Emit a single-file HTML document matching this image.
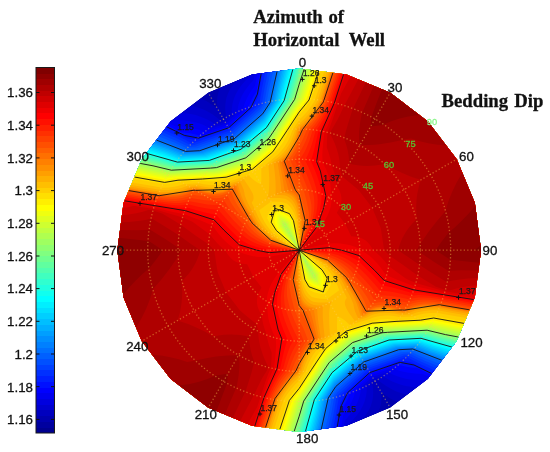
<!DOCTYPE html><html><head><meta charset="utf-8"><title>Polar contour</title>
<style>html,body{margin:0;padding:0;background:#fff}svg{display:block}.s{font-family:"Liberation Sans",Arial,sans-serif}.t{font-family:"Liberation Serif","Times New Roman",serif;font-weight:bold;font-size:18.7px;fill:#111;stroke:#111;stroke-width:0.3px}</style></head><body>
<svg width="550" height="452" viewBox="0 0 550 452">
<rect width="550" height="452" fill="#fff"/>
<g shape-rendering="crispEdges">
<rect x="36.0" y="427.29" width="18.5" height="6.01" fill="#00008f"/>
<rect x="36.0" y="421.58" width="18.5" height="6.01" fill="#00009f"/>
<rect x="36.0" y="415.87" width="18.5" height="6.01" fill="#0000af"/>
<rect x="36.0" y="410.16" width="18.5" height="6.01" fill="#0000bf"/>
<rect x="36.0" y="404.45" width="18.5" height="6.01" fill="#0000cf"/>
<rect x="36.0" y="398.73" width="18.5" height="6.01" fill="#0000df"/>
<rect x="36.0" y="393.02" width="18.5" height="6.01" fill="#0000ef"/>
<rect x="36.0" y="387.31" width="18.5" height="6.01" fill="#0000ff"/>
<rect x="36.0" y="381.60" width="18.5" height="6.01" fill="#0010ff"/>
<rect x="36.0" y="375.89" width="18.5" height="6.01" fill="#0020ff"/>
<rect x="36.0" y="370.18" width="18.5" height="6.01" fill="#0030ff"/>
<rect x="36.0" y="364.47" width="18.5" height="6.01" fill="#0040ff"/>
<rect x="36.0" y="358.76" width="18.5" height="6.01" fill="#0050ff"/>
<rect x="36.0" y="353.05" width="18.5" height="6.01" fill="#0060ff"/>
<rect x="36.0" y="347.34" width="18.5" height="6.01" fill="#0070ff"/>
<rect x="36.0" y="341.62" width="18.5" height="6.01" fill="#0080ff"/>
<rect x="36.0" y="335.91" width="18.5" height="6.01" fill="#008fff"/>
<rect x="36.0" y="330.20" width="18.5" height="6.01" fill="#009fff"/>
<rect x="36.0" y="324.49" width="18.5" height="6.01" fill="#00afff"/>
<rect x="36.0" y="318.78" width="18.5" height="6.01" fill="#00bfff"/>
<rect x="36.0" y="313.07" width="18.5" height="6.01" fill="#00cfff"/>
<rect x="36.0" y="307.36" width="18.5" height="6.01" fill="#00dfff"/>
<rect x="36.0" y="301.65" width="18.5" height="6.01" fill="#00efff"/>
<rect x="36.0" y="295.94" width="18.5" height="6.01" fill="#00ffff"/>
<rect x="36.0" y="290.23" width="18.5" height="6.01" fill="#10ffef"/>
<rect x="36.0" y="284.52" width="18.5" height="6.01" fill="#20ffdf"/>
<rect x="36.0" y="278.80" width="18.5" height="6.01" fill="#30ffcf"/>
<rect x="36.0" y="273.09" width="18.5" height="6.01" fill="#40ffbf"/>
<rect x="36.0" y="267.38" width="18.5" height="6.01" fill="#50ffaf"/>
<rect x="36.0" y="261.67" width="18.5" height="6.01" fill="#60ff9f"/>
<rect x="36.0" y="255.96" width="18.5" height="6.01" fill="#70ff8f"/>
<rect x="36.0" y="250.25" width="18.5" height="6.01" fill="#80ff80"/>
<rect x="36.0" y="244.54" width="18.5" height="6.01" fill="#8fff70"/>
<rect x="36.0" y="238.83" width="18.5" height="6.01" fill="#9fff60"/>
<rect x="36.0" y="233.12" width="18.5" height="6.01" fill="#afff50"/>
<rect x="36.0" y="227.41" width="18.5" height="6.01" fill="#bfff40"/>
<rect x="36.0" y="221.70" width="18.5" height="6.01" fill="#cfff30"/>
<rect x="36.0" y="215.98" width="18.5" height="6.01" fill="#dfff20"/>
<rect x="36.0" y="210.27" width="18.5" height="6.01" fill="#efff10"/>
<rect x="36.0" y="204.56" width="18.5" height="6.01" fill="#ffff00"/>
<rect x="36.0" y="198.85" width="18.5" height="6.01" fill="#ffef00"/>
<rect x="36.0" y="193.14" width="18.5" height="6.01" fill="#ffdf00"/>
<rect x="36.0" y="187.43" width="18.5" height="6.01" fill="#ffcf00"/>
<rect x="36.0" y="181.72" width="18.5" height="6.01" fill="#ffbf00"/>
<rect x="36.0" y="176.01" width="18.5" height="6.01" fill="#ffaf00"/>
<rect x="36.0" y="170.30" width="18.5" height="6.01" fill="#ff9f00"/>
<rect x="36.0" y="164.59" width="18.5" height="6.01" fill="#ff8f00"/>
<rect x="36.0" y="158.88" width="18.5" height="6.01" fill="#ff8000"/>
<rect x="36.0" y="153.16" width="18.5" height="6.01" fill="#ff7000"/>
<rect x="36.0" y="147.45" width="18.5" height="6.01" fill="#ff6000"/>
<rect x="36.0" y="141.74" width="18.5" height="6.01" fill="#ff5000"/>
<rect x="36.0" y="136.03" width="18.5" height="6.01" fill="#ff4000"/>
<rect x="36.0" y="130.32" width="18.5" height="6.01" fill="#ff3000"/>
<rect x="36.0" y="124.61" width="18.5" height="6.01" fill="#ff2000"/>
<rect x="36.0" y="118.90" width="18.5" height="6.01" fill="#ff1000"/>
<rect x="36.0" y="113.19" width="18.5" height="6.01" fill="#ff0000"/>
<rect x="36.0" y="107.48" width="18.5" height="6.01" fill="#ef0000"/>
<rect x="36.0" y="101.77" width="18.5" height="6.01" fill="#df0000"/>
<rect x="36.0" y="96.05" width="18.5" height="6.01" fill="#cf0000"/>
<rect x="36.0" y="90.34" width="18.5" height="6.01" fill="#bf0000"/>
<rect x="36.0" y="84.63" width="18.5" height="6.01" fill="#af0000"/>
<rect x="36.0" y="78.92" width="18.5" height="6.01" fill="#9f0000"/>
<rect x="36.0" y="73.21" width="18.5" height="6.01" fill="#8f0000"/>
<rect x="36.0" y="67.50" width="18.5" height="6.01" fill="#800000"/>
</g>
<rect x="36.0" y="67.5" width="18.5" height="365.5" fill="none" stroke="#1a1a1a" stroke-width="1"/>
<path d="M36.0 92.5h3.5M54.5 92.5h-3.5" stroke="#111" stroke-width="1"/>
<text class="s" x="33.0" y="97.3" font-size="13.3" text-anchor="end" fill="#111" stroke="#111" stroke-width="0.3">1.36</text>
<path d="M36.0 125.2h3.5M54.5 125.2h-3.5" stroke="#111" stroke-width="1"/>
<text class="s" x="33.0" y="130.0" font-size="13.3" text-anchor="end" fill="#111" stroke="#111" stroke-width="0.3">1.34</text>
<path d="M36.0 157.9h3.5M54.5 157.9h-3.5" stroke="#111" stroke-width="1"/>
<text class="s" x="33.0" y="162.7" font-size="13.3" text-anchor="end" fill="#111" stroke="#111" stroke-width="0.3">1.32</text>
<path d="M36.0 190.6h3.5M54.5 190.6h-3.5" stroke="#111" stroke-width="1"/>
<text class="s" x="33.0" y="195.4" font-size="13.3" text-anchor="end" fill="#111" stroke="#111" stroke-width="0.3">1.3</text>
<path d="M36.0 223.3h3.5M54.5 223.3h-3.5" stroke="#111" stroke-width="1"/>
<text class="s" x="33.0" y="228.1" font-size="13.3" text-anchor="end" fill="#111" stroke="#111" stroke-width="0.3">1.28</text>
<path d="M36.0 256.0h3.5M54.5 256.0h-3.5" stroke="#111" stroke-width="1"/>
<text class="s" x="33.0" y="260.8" font-size="13.3" text-anchor="end" fill="#111" stroke="#111" stroke-width="0.3">1.26</text>
<path d="M36.0 288.6h3.5M54.5 288.6h-3.5" stroke="#111" stroke-width="1"/>
<text class="s" x="33.0" y="293.4" font-size="13.3" text-anchor="end" fill="#111" stroke="#111" stroke-width="0.3">1.24</text>
<path d="M36.0 321.3h3.5M54.5 321.3h-3.5" stroke="#111" stroke-width="1"/>
<text class="s" x="33.0" y="326.1" font-size="13.3" text-anchor="end" fill="#111" stroke="#111" stroke-width="0.3">1.22</text>
<path d="M36.0 354.0h3.5M54.5 354.0h-3.5" stroke="#111" stroke-width="1"/>
<text class="s" x="33.0" y="358.8" font-size="13.3" text-anchor="end" fill="#111" stroke="#111" stroke-width="0.3">1.2</text>
<path d="M36.0 386.7h3.5M54.5 386.7h-3.5" stroke="#111" stroke-width="1"/>
<text class="s" x="33.0" y="391.5" font-size="13.3" text-anchor="end" fill="#111" stroke="#111" stroke-width="0.3">1.18</text>
<path d="M36.0 419.4h3.5M54.5 419.4h-3.5" stroke="#111" stroke-width="1"/>
<text class="s" x="33.0" y="424.2" font-size="13.3" text-anchor="end" fill="#111" stroke="#111" stroke-width="0.3">1.16</text>
<defs><clipPath id="c"><polygon points="299.2,68.4 346.3,74.6 390.1,92.8 427.8,121.6 456.6,159.3 474.8,203.1 481.0,250.2 474.8,297.3 456.6,341.1 427.8,378.8 390.1,407.6 346.3,425.8 299.2,432.0 252.1,425.8 208.3,407.6 170.6,378.8 141.8,341.1 123.6,297.3 117.4,250.2 123.6,203.1 141.8,159.3 170.6,121.6 208.3,92.8 252.1,74.6"/></clipPath></defs>
<g clip-path="url(#c)">
<rect x="100" y="50" width="400" height="400" fill="#00008f"/>
<path fill="#00009f" fill-rule="evenodd" d="M549.8,451.8 0.2,451.8 0.2,0.2 549.8,0.2 549.8,451.8Z"/>
<path fill="#0000af" fill-rule="evenodd" d="M549.8,451.8 0.2,451.8 0.2,0.2 549.8,0.2 549.8,451.8Z"/>
<path fill="#0000bf" fill-rule="evenodd" d="M549.8,451.8 430.1,451.8 397.8,402.0 393.2,399.9 389.2,397.7 385.2,395.0 381.2,391.8 380.9,392.2 381.4,398.2 381.3,401.2 381.0,403.8 379.8,408.2 377.8,412.8 396.7,451.8 0.2,451.8 0.2,0.2 136.9,0.2 200.5,98.2 201.2,98.8 205.8,100.8 209.2,102.8 213.2,105.5 217.2,108.6 217.6,108.2 217.0,102.8 217.1,99.8 217.3,97.2 218.2,93.2 219.1,90.8 220.5,87.8 220.4,87.2 178.3,0.2 549.8,0.2 549.8,451.8Z"/>
<path fill="#0000cf" fill-rule="evenodd" d="M549.8,451.8 449.9,451.8 407.3,394.8 399.2,392.6 395.8,391.2 392.2,389.6 385.8,385.8 381.8,383.0 377.8,379.7 377.2,379.6 374.2,380.7 372.5,382.2 372.2,382.8 373.0,388.2 373.2,393.2 372.9,397.8 372.0,402.2 370.5,406.8 368.5,410.8 366.0,414.8 362.5,419.2 374.6,451.8 0.2,451.8 0.2,0.2 112.3,0.2 191.2,105.8 195.8,106.8 199.2,107.9 202.8,109.2 206.2,110.8 212.8,114.6 216.8,117.5 220.7,120.8 221.2,120.8 224.1,119.8 226.2,117.8 225.4,112.2 225.2,107.2 225.5,102.8 226.3,98.2 227.9,93.8 229.8,89.8 232.4,85.8 235.9,81.2 205.7,0.2 549.8,0.2 549.8,451.8Z"/>
<path fill="#0000df" fill-rule="evenodd" d="M549.8,451.8 471.8,451.8 416.8,387.4 407.2,386.3 402.8,385.3 398.8,384.1 394.8,382.5 391.2,380.9 386.8,378.4 382.8,375.9 382.2,375.7 373.5,378.8 366.8,384.8 366.7,391.2 366.0,396.2 364.7,401.2 362.6,406.2 360.1,410.8 356.9,415.2 353.5,419.2 347.3,425.2 347.1,425.8 354.2,451.8 0.2,451.8 0.2,0.2 85.1,0.2 181.5,112.8 182.2,113.1 187.2,113.5 191.8,114.2 195.8,115.1 199.8,116.4 203.8,117.9 207.8,119.8 211.8,122.0 215.8,124.6 216.8,124.5 224.8,121.7 231.5,115.8 231.7,115.2 231.7,109.2 232.4,104.2 233.7,99.2 235.7,94.2 238.6,89.2 241.8,84.8 245.8,80.2 251.3,74.8 231.0,0.2 549.8,0.2 549.8,451.8Z"/>
<path fill="#0000ef" fill-rule="evenodd" d="M549.8,451.8 496.2,451.8 426.3,380.2 425.8,380.0 420.2,380.2 414.8,380.0 410.2,379.6 405.8,378.8 401.2,377.6 397.2,376.3 392.8,374.5 387.8,372.0 387.2,372.0 372.2,377.1 361.6,386.8 361.3,387.2 360.6,392.2 359.5,396.8 358.2,400.8 356.6,404.2 354.4,408.2 351.8,412.2 348.6,416.2 345.0,420.2 344.8,420.7 343.8,426.2 350.2,451.8 0.2,451.8 0.2,0.2 54.9,0.2 172.2,120.2 178.8,120.2 183.2,120.3 188.2,120.9 192.8,121.7 197.2,122.8 201.8,124.3 206.2,126.2 210.8,128.4 211.8,128.3 225.8,123.5 237.1,113.2 237.7,108.8 238.5,104.8 240.0,100.2 241.7,96.2 243.6,92.8 245.9,89.2 249.3,84.8 253.2,80.4 253.8,79.1 254.6,74.2 235.9,0.2 549.8,0.2 549.8,451.8Z"/>
<path fill="#0000ff" fill-rule="evenodd" d="M549.8,451.8 505.9,451.8 429.2,377.0 422.8,373.9 414.8,373.6 407.2,372.6 400.2,370.9 392.2,368.1 371.2,375.3 355.9,389.2 354.0,396.2 351.5,402.2 348.1,408.2 343.3,414.8 341.2,426.2 347.1,451.8 0.2,451.8 0.2,0.2 42.9,0.2 169.2,123.4 175.8,126.5 183.8,126.8 191.2,127.8 198.2,129.5 205.7,132.2 206.2,132.3 226.8,125.2 242.4,111.2 244.4,104.2 246.9,98.2 249.9,92.8 252.3,89.2 254.8,86.1 255.2,85.2 257.3,73.8 239.8,0.2 549.8,0.2 549.8,451.8Z"/>
<path fill="#0010ff" fill-rule="evenodd" d="M549.8,451.8 512.3,451.8 430.9,374.8 417.2,368.1 411.2,367.4 406.8,366.7 402.2,365.7 397.2,364.2 370.2,373.5 357.8,384.8 350.3,391.8 348.8,396.2 347.0,400.2 344.8,404.2 341.8,409.1 338.5,426.8 344.0,451.8 0.2,451.8 0.2,0.2 34.9,0.2 167.2,125.4 181.2,132.3 186.8,132.9 191.2,133.6 195.8,134.6 200.8,136.1 201.8,136.0 208.8,133.6 228.2,126.8 248.0,108.8 249.6,104.2 251.4,100.2 253.5,96.2 256.6,91.2 259.9,73.8 259.9,73.2 243.6,0.2 549.8,0.2 549.8,451.8Z"/>
<path fill="#0020ff" fill-rule="evenodd" d="M549.8,451.8 518.9,451.8 432.8,372.7 421.2,367.3 411.2,362.2 402.8,360.5 401.8,360.6 397.2,362.1 369.2,371.8 356.9,382.8 345.0,393.8 342.7,398.8 340.2,403.3 338.3,414.8 335.8,427.2 340.9,451.8 0.2,451.8 0.2,0.2 26.7,0.2 165.7,127.8 177.2,133.1 187.2,138.3 195.8,139.9 196.8,139.8 207.8,136.1 229.2,128.5 241.4,117.8 253.3,106.8 255.9,101.2 258.0,97.2 260.4,83.8 262.6,73.2 247.5,0.2 549.8,0.2 549.8,451.8Z"/>
<path fill="#0030ff" fill-rule="evenodd" d="M549.8,451.8 525.8,451.8 434.2,370.3 421.2,364.6 414.2,361.1 406.8,357.1 406.2,357.0 388.2,363.0 368.2,370.0 352.8,383.8 339.4,396.2 338.7,397.8 336.5,411.2 333.2,427.8 337.8,451.8 0.2,451.8 0.2,0.2 18.1,0.2 163.8,129.8 164.5,130.2 177.8,136.1 184.8,139.6 191.5,143.2 192.2,143.4 214.2,136.0 230.2,130.3 243.3,118.8 256.3,106.8 258.9,104.2 259.6,102.8 262.0,88.2 265.2,72.8 251.3,0.2 549.8,0.2 549.8,451.8Z"/>
<path fill="#0040ff" fill-rule="evenodd" d="M549.8,451.8 533.0,451.8 436.1,368.2 421.8,362.1 407.8,355.2 404.2,355.4 367.2,368.2 351.4,382.2 337.8,394.9 336.5,396.8 333.9,412.2 330.6,427.8 334.8,451.8 0.2,451.8 0.2,0.2 9.3,0.2 162.2,132.1 176.2,138.1 183.2,141.5 190.2,145.1 190.8,145.2 194.2,144.9 216.8,137.3 231.2,132.1 243.6,121.2 256.2,109.8 260.2,105.9 261.8,103.8 264.4,88.8 267.8,72.2 255.1,0.2 549.8,0.2 549.8,451.8Z"/>
<path fill="#0050ff" fill-rule="evenodd" d="M549.8,451.8 540.4,451.8 437.8,366.0 424.8,360.7 417.2,357.3 409.8,353.6 408.8,353.4 402.8,353.8 366.2,366.4 351.6,379.2 337.2,392.4 334.2,397.2 331.5,412.2 327.9,428.2 331.7,451.8 0.2,451.8 0.2,0.4 160.4,134.2 175.2,140.4 189.2,147.0 195.8,146.6 217.8,139.1 232.2,133.9 246.7,121.2 260.8,108.4 264.2,103.2 266.9,88.2 270.5,72.2 258.9,0.2 549.8,0.2 549.8,451.8Z"/>
<path fill="#0060ff" fill-rule="evenodd" d="M549.8,451.8 548.1,451.8 439.4,363.8 425.8,358.5 418.2,355.2 410.9,351.8 410.2,351.7 400.8,352.2 365.2,364.7 351.3,376.8 336.8,390.0 331.9,397.2 331.8,397.8 329.0,412.8 325.4,428.2 325.3,428.8 328.7,451.8 0.2,451.8 0.2,8.2 158.8,136.5 174.2,142.6 187.8,148.8 197.3,148.2 233.2,135.7 247.5,123.2 261.8,110.3 266.4,103.2 269.6,86.8 273.1,71.8 262.7,0.2 549.8,0.2 549.8,451.8Z"/>
<path fill="#0070ff" fill-rule="evenodd" d="M325.2,451.8 0.2,451.8 0.2,15.7 157.2,138.9 171.2,144.0 178.8,147.1 186.2,150.5 186.8,150.5 199.2,149.8 234.2,137.4 248.4,125.2 262.2,112.7 268.9,102.8 271.8,88.2 275.7,71.2 266.4,0.2 549.8,0.2 549.8,446.7 441.2,361.6 426.8,356.3 419.2,353.1 412.2,349.9 411.8,349.9 399.2,350.6 364.2,362.9 350.5,374.8 336.2,387.6 329.5,397.8 326.5,412.8 322.7,428.8 325.6,451.8 325.2,451.8Z"/>
<path fill="#0080ff" fill-rule="evenodd" d="M322.8,451.8 0.2,451.8 0.2,21.6 155.8,140.5 169.8,145.5 177.2,148.5 184.8,151.8 185.8,152.0 200.2,151.1 234.8,139.0 247.5,128.2 262.8,114.6 270.6,102.8 270.8,102.2 274.2,85.8 277.9,71.2 269.4,0.2 549.8,0.2 549.8,441.8 442.5,359.8 428.8,355.0 421.2,352.0 413.2,348.5 412.8,348.4 398.2,349.2 363.8,361.3 351.4,371.8 335.7,385.8 327.6,398.2 324.5,413.2 320.5,429.2 323.2,451.8 322.8,451.8Z"/>
<path fill="#008fff" fill-rule="evenodd" d="M321.2,451.8 0.2,451.8 0.2,26.0 154.8,141.9 169.8,147.0 177.2,150.0 184.2,153.0 184.8,153.0 201.2,152.1 222.8,144.6 235.8,139.9 249.9,127.8 263.2,115.8 272.2,102.2 275.2,87.8 279.4,70.8 271.7,0.2 549.8,0.2 549.8,438.1 443.2,358.3 428.8,353.4 421.2,350.5 414.2,347.5 413.2,347.4 397.4,348.2 362.8,360.5 347.8,373.2 335.0,384.8 326.2,398.2 323.0,413.2 319.0,429.2 321.4,451.8 321.2,451.8Z"/>
<path fill="#009fff" fill-rule="evenodd" d="M319.2,451.8 0.2,451.8 0.2,30.3 153.8,143.2 169.2,148.4 183.8,154.1 194.2,153.6 202.2,153.1 236.2,141.0 249.5,129.8 263.2,117.6 273.5,102.2 277.0,86.2 281.0,70.8 273.9,0.2 549.8,0.2 549.8,434.5 444.2,357.0 436.8,354.6 429.2,352.1 414.8,346.3 396.8,347.3 396.2,347.3 384.8,351.3 362.2,359.3 348.2,371.2 334.8,383.2 324.9,398.2 321.5,413.8 317.5,429.2 317.4,429.8 319.6,451.8 319.2,451.8Z"/>
<path fill="#00afff" fill-rule="evenodd" d="M317.8,451.8 0.2,451.8 0.2,34.5 152.8,144.6 168.2,149.5 182.8,155.2 202.8,154.1 216.2,149.5 236.8,142.1 249.7,131.2 263.8,118.8 275.0,101.8 278.1,87.8 282.6,70.2 276.1,0.2 549.8,0.2 549.8,430.9 445.5,355.8 430.2,350.9 422.8,348.1 415.8,345.3 395.8,346.3 383.8,350.3 361.7,358.2 346.9,370.8 334.2,382.0 323.4,398.8 320.0,413.8 315.8,429.8 317.8,451.8Z"/>
<path fill="#00bfff" fill-rule="evenodd" d="M315.8,451.8 0.2,451.8 0.2,38.7 151.8,145.9 167.8,150.9 181.8,156.2 203.8,155.1 223.8,148.1 237.2,143.2 237.8,142.9 251.0,131.8 264.2,120.1 276.4,101.8 279.8,86.8 284.2,70.2 278.4,0.2 549.8,0.2 549.8,427.4 446.8,354.6 430.8,349.5 416.2,344.1 394.8,345.3 381.2,349.9 361.0,357.2 346.1,369.8 335.3,379.2 333.8,380.8 322.0,398.8 318.7,413.2 314.2,430.2 316.0,451.8 315.8,451.8Z"/>
<path fill="#00cfff" fill-rule="evenodd" d="M313.8,451.8 0.2,451.8 0.2,42.9 150.8,147.2 166.2,151.9 181.2,157.3 204.8,156.1 222.8,149.8 238.2,144.0 252.3,132.2 264.8,121.3 277.6,101.8 281.6,85.2 285.8,70.2 280.6,0.2 549.8,0.2 549.8,424.0 447.8,353.2 431.8,348.4 417.2,343.1 393.8,344.3 379.2,349.3 360.3,356.2 347.1,367.2 333.8,378.9 320.7,398.8 320.5,399.2 317.0,414.2 312.6,430.2 314.2,451.8 313.8,451.8Z"/>
<path fill="#00dfff" fill-rule="evenodd" d="M312.2,451.8 0.2,451.8 0.2,46.9 149.8,148.6 165.2,153.1 180.2,158.4 205.8,157.0 221.2,151.6 238.8,145.2 252.5,133.8 265.1,122.8 279.2,101.2 282.7,86.8 287.4,69.8 282.8,0.2 549.8,0.2 549.8,420.6 448.5,351.8 432.8,347.2 418.2,342.1 392.8,343.4 379.8,347.8 359.8,355.1 345.8,366.8 333.2,377.7 319.2,399.2 315.6,414.2 311.1,430.2 312.4,451.8 312.2,451.8Z"/>
<path fill="#00efff" fill-rule="evenodd" d="M310.2,451.8 0.2,451.8 0.2,50.9 148.8,149.9 164.2,154.2 179.8,159.5 206.8,158.0 220.8,153.1 239.5,146.2 253.8,134.2 265.2,124.4 280.5,101.2 284.5,85.2 288.9,69.8 285.0,0.2 549.8,0.2 549.8,417.2 449.8,350.5 433.8,346.0 418.8,340.9 391.8,342.4 359.2,353.9 343.3,367.2 332.8,376.5 317.8,399.2 314.1,414.2 309.5,430.8 310.6,451.8 310.2,451.8Z"/>
<path fill="#00ffff" fill-rule="evenodd" d="M308.8,451.8 0.2,451.8 0.2,54.9 147.8,151.3 163.2,155.4 178.8,160.5 207.8,159.0 239.8,147.6 240.2,147.3 265.8,125.6 281.8,101.2 286.0,85.2 290.5,69.2 287.2,0.2 549.8,0.2 549.8,413.9 450.8,349.2 434.8,344.9 419.8,339.9 390.8,341.4 358.2,353.0 339.6,368.8 332.8,374.7 332.3,375.2 316.3,399.8 312.5,414.8 307.9,430.8 308.8,451.8Z"/>
<path fill="#10ffef" fill-rule="evenodd" d="M306.8,451.8 0.2,451.8 0.2,58.8 146.8,152.6 162.8,156.7 170.2,159.0 177.8,161.6 208.8,159.9 240.8,148.6 266.2,126.9 283.4,100.8 287.3,85.8 292.1,69.2 289.4,0.2 549.8,0.2 549.8,410.6 451.8,347.9 435.2,343.6 420.8,338.9 389.8,340.5 357.8,351.7 332.2,373.4 314.9,399.8 311.2,414.2 306.3,431.2 307.1,451.8 306.8,451.8Z"/>
<path fill="#20ffdf" fill-rule="evenodd" d="M305.2,451.8 0.2,451.8 0.2,62.4 145.8,153.8 161.8,157.8 177.2,162.6 209.8,160.8 241.3,149.8 266.5,128.2 284.7,100.8 288.9,84.8 293.6,69.2 291.5,0.2 549.8,0.2 549.8,407.6 452.8,346.6 436.2,342.5 421.2,337.8 388.8,339.5 357.2,350.6 331.8,372.3 313.7,399.8 309.6,415.2 304.8,431.2 305.4,451.8 305.2,451.8Z"/>
<path fill="#30ffcf" fill-rule="evenodd" d="M303.8,451.8 0.2,451.8 0.2,65.8 144.8,154.9 161.2,159.0 176.2,163.5 210.8,161.7 241.8,150.8 266.8,129.6 285.8,100.8 290.3,84.2 295.0,68.8 293.4,0.2 549.8,0.2 549.8,404.7 453.2,345.3 438.2,341.7 421.8,336.9 387.8,338.7 356.8,349.6 335.2,367.8 331.3,371.2 312.3,400.2 308.2,415.6 303.5,431.2 303.8,451.8Z"/>
<path fill="#40ffbf" fill-rule="evenodd" d="M302.2,451.8 0.2,451.8 0.2,69.1 144.2,156.2 159.8,159.8 175.8,164.5 211.2,162.6 242.2,151.8 242.8,151.5 267.2,130.6 287.2,100.2 291.4,84.8 296.4,68.8 295.3,0.2 549.8,0.2 549.8,402.0 454.2,344.1 446.2,342.4 438.2,340.5 422.8,335.9 386.8,337.9 355.9,348.8 331.2,369.8 311.1,400.2 307.1,415.2 302.0,431.8 302.2,451.8Z"/>
<path fill="#50ffaf" fill-rule="evenodd" d="M300.8,451.8 0.2,451.8 0.2,72.4 143.2,157.4 159.2,161.0 166.8,163.0 174.8,165.4 212.2,163.4 242.8,152.9 243.2,152.6 267.6,131.8 288.4,100.2 292.6,85.2 297.8,68.2 297.3,0.2 549.8,0.2 549.8,399.2 455.2,343.0 439.2,339.5 423.2,335.0 385.8,337.1 355.3,347.8 330.8,368.7 310.0,400.2 305.7,415.8 300.6,431.8 300.8,451.8Z"/>
<path fill="#60ff9f" fill-rule="evenodd" d="M298.8,451.8 0.2,451.8 0.2,75.7 142.2,158.6 158.2,162.0 174.2,166.4 213.2,164.3 243.8,153.6 267.8,133.2 289.5,100.2 294.3,83.8 299.2,68.2 299.2,0.2 549.8,0.2 549.8,396.5 456.2,341.9 439.8,338.3 424.2,334.0 385.2,336.1 354.8,346.7 330.8,367.1 330.2,367.7 308.6,400.8 304.4,415.8 299.3,431.8 299.2,451.8 298.8,451.8Z"/>
<path fill="#70ff8f" fill-rule="evenodd" d="M297.8,451.8 0.2,451.8 0.2,78.7 141.6,159.8 157.2,163.0 173.8,167.3 213.8,165.2 244.2,154.7 268.2,134.2 291.0,99.8 294.9,85.8 300.5,68.2 300.9,0.2 549.8,0.2 549.8,393.9 456.8,340.6 441.2,337.4 424.8,333.1 384.2,335.3 369.8,340.4 354.2,345.6 330.1,366.2 307.4,400.8 303.1,415.8 298.0,431.8 297.8,451.8Z"/>
<path fill="#80ff80" fill-rule="evenodd" d="M296.2,451.8 0.2,451.8 0.2,81.5 141.2,161.0 157.8,164.3 172.8,168.3 214.8,166.0 244.8,155.8 268.2,135.8 292.1,99.8 296.7,84.2 301.7,68.8 302.7,0.2 549.8,0.2 549.8,391.6 457.2,339.4 440.8,336.1 425.8,332.2 400.8,333.4 383.2,334.5 368.2,339.8 353.8,344.6 329.8,365.0 306.2,400.8 302.0,415.2 296.7,431.8 296.4,451.8 296.2,451.8Z"/>
<path fill="#8fff70" fill-rule="evenodd" d="M294.8,451.8 0.2,451.8 0.2,84.3 140.8,162.2 156.8,165.4 172.2,169.2 197.8,167.9 215.8,166.8 231.2,161.4 245.2,156.8 268.8,136.9 293.2,99.8 297.9,84.2 303.0,68.8 304.4,0.2 549.8,0.2 549.8,389.2 457.8,338.2 441.8,335.1 426.2,331.2 401.2,332.4 382.8,333.6 366.8,339.1 353.2,343.5 329.8,363.5 329.2,364.1 304.9,401.2 300.6,415.8 295.5,431.2 295.0,451.8 294.8,451.8Z"/>
<path fill="#9fff60" fill-rule="evenodd" d="M293.2,451.8 0.2,451.8 0.2,87.1 140.2,163.5 155.2,166.3 163.9,168.2 171.2,170.2 195.8,169.0 213.2,168.0 216.8,167.6 230.8,162.7 245.8,157.9 268.8,138.4 271.4,134.8 294.7,99.2 298.2,87.2 304.3,68.8 306.2,0.2 549.8,0.2 549.8,386.9 458.2,337.0 441.4,333.8 427.2,330.3 401.2,331.5 384.8,332.4 381.8,332.8 365.9,338.2 352.8,342.5 329.0,362.8 303.7,401.2 299.2,416.0 294.2,431.2 293.5,451.8 293.2,451.8Z"/>
<path fill="#afff50" fill-rule="evenodd" d="M291.2,451.8 0.2,451.8 0.2,90.8 139.2,164.9 157.2,168.3 170.2,171.4 212.8,169.3 217.8,168.8 231.2,164.1 246.8,159.1 269.2,139.9 272.3,135.8 296.2,99.2 299.2,89.4 305.9,69.2 308.5,0.2 549.8,0.2 549.8,383.8 458.8,335.4 441.2,332.1 427.8,329.0 385.8,331.1 380.8,331.6 365.2,336.9 351.8,341.3 329.2,360.4 328.2,361.5 302.1,401.2 299.2,410.7 292.5,431.2 291.7,451.8 291.2,451.8ZM286.8,228.8 286.8,228.6 286.8,228.8ZM287.8,230.2 287.8,230.1 287.6,230.2 287.8,230.5 287.8,230.2ZM295.4,243.2 289.8,233.4 289.5,233.2 289.4,232.8 288.2,230.9 288.1,231.2 288.2,231.5 288.7,231.8 288.6,232.2 289.1,232.8 289.8,234.2 290.0,234.2 290.0,234.8 290.5,235.2 290.6,235.8 295.2,243.7 295.4,243.2ZM296.8,245.8 295.8,243.8 295.6,244.2 296.2,244.8 296.2,245.2 296.8,246.2 296.8,245.8ZM297.4,246.8 297.2,246.5 297.1,246.8 297.2,247.0 297.4,246.8ZM297.8,247.8 297.8,247.5 297.7,247.8 297.8,247.8ZM300.8,252.8 300.8,252.9 300.8,252.8ZM301.4,253.8 301.2,253.5 301.1,253.8 301.2,254.1 301.4,253.8ZM310.4,269.2 309.9,268.8 309.8,268.2 308.8,266.3 308.5,266.2 308.4,265.8 303.8,257.8 303.2,256.8 302.9,256.8 302.9,256.2 302.4,255.8 302.3,255.2 301.8,254.4 301.8,255.0 302.1,255.2 302.2,255.9 303.2,257.7 303.5,257.8 303.6,258.2 306.2,262.9 308.8,267.2 309.2,267.2 309.1,267.8 309.6,268.2 310.2,269.6 310.4,269.2ZM310.9,270.2 310.8,270.0 310.6,270.2 310.8,270.5 310.9,270.2ZM311.3,271.2 311.2,271.1 311.3,271.2Z"/>
<path fill="#bfff40" fill-rule="evenodd" d="M289.8,451.8 0.2,451.8 0.2,94.4 138.8,166.6 161.2,170.8 169.2,172.7 212.8,170.6 218.8,169.9 234.2,164.7 247.2,160.5 269.8,141.5 273.3,136.8 276.4,131.8 298.0,98.8 307.6,69.2 310.8,0.2 549.8,0.2 549.8,380.8 459.8,333.9 437.2,329.6 428.8,327.7 385.2,329.9 379.2,330.6 350.8,340.1 328.8,358.8 326.8,361.2 300.4,401.8 290.8,430.8 289.8,451.8ZM298.8,249.2 298.4,248.8 298.2,248.1 297.2,245.9 292.8,236.8 285.6,223.8 284.8,223.0 283.2,222.2 283.1,222.2 282.9,222.8 283.0,224.2 283.3,225.2 292.5,240.2 297.5,247.8 298.0,248.2 298.2,248.8 298.8,249.2ZM315.3,278.2 315.5,277.2 315.2,275.4 306.9,261.8 299.8,251.1 299.8,251.5 300.2,251.8 300.1,252.2 301.2,254.7 305.2,262.8 312.8,276.6 313.4,277.2 315.3,278.2Z"/>
<path fill="#cfff30" fill-rule="evenodd" d="M287.8,451.8 0.2,451.8 0.2,98.0 138.2,168.2 168.8,173.9 207.2,172.0 212.8,171.9 219.8,171.1 248.2,161.8 270.2,143.0 272.2,140.6 274.6,137.2 277.9,131.8 299.6,98.8 309.3,69.8 313.2,0.2 549.8,0.2 549.8,377.7 460.2,332.2 429.8,326.5 390.8,328.5 385.2,328.5 381.8,328.9 378.2,329.4 364.2,334.2 350.2,338.6 328.2,357.3 325.8,360.2 323.1,364.2 320.5,368.8 298.7,401.8 289.1,430.8 287.9,451.8 287.8,451.8ZM298.8,249.2 293.8,237.0 287.1,223.2 286.8,222.7 284.8,221.4 282.2,220.2 281.8,220.1 281.6,222.8 282.0,225.8 286.9,233.2 292.1,240.8 298.1,248.8 298.8,249.4 298.8,249.2ZM316.5,280.2 316.8,279.8 316.8,278.2 316.5,274.8 308.1,262.2 303.1,255.2 299.8,251.0 299.6,251.2 300.2,253.0 304.2,262.5 311.3,277.2 311.7,277.8 313.8,279.0 316.2,280.3 316.5,280.2Z"/>
<path fill="#dfff20" fill-rule="evenodd" d="M285.8,451.8 0.2,451.8 0.2,101.6 137.2,169.7 167.8,175.4 169.8,175.1 206.8,173.2 213.2,173.2 219.8,172.4 221.2,172.1 235.2,167.4 248.8,163.2 270.8,144.6 273.1,141.8 275.3,138.8 279.7,131.2 298.8,102.3 301.4,98.8 311.0,69.8 315.5,0.2 549.8,0.2 549.8,374.7 460.8,330.6 430.8,325.0 428.8,325.3 391.8,327.2 385.2,327.2 381.2,327.6 377.2,328.3 349.2,337.4 327.8,355.7 324.8,359.3 321.8,363.8 318.6,369.2 299.2,398.7 297.0,401.8 287.5,430.2 286.0,451.8 285.8,451.8ZM298.9,249.2 296.8,242.8 294.2,236.0 288.4,222.2 284.8,219.8 280.8,217.9 280.4,218.2 280.4,218.8 280.1,222.2 280.4,224.8 281.0,226.8 286.4,234.2 292.2,241.8 297.9,248.8 298.8,249.6 298.9,249.2ZM317.9,282.2 318.2,279.8 318.2,277.8 317.9,275.2 317.5,273.8 308.3,261.2 299.8,250.9 299.6,251.2 299.8,252.0 303.2,262.0 306.8,270.8 310.1,278.2 312.2,279.8 314.8,281.2 317.2,282.3 317.8,282.5 317.9,282.2Z"/>
<path fill="#efff10" fill-rule="evenodd" d="M283.8,451.8 0.2,451.8 0.2,105.2 136.8,171.4 166.8,176.9 171.3,176.2 205.8,174.5 209.8,174.6 213.8,174.5 220.2,173.7 222.2,173.3 235.8,168.8 249.8,164.5 271.2,146.2 273.8,143.2 276.3,139.8 278.8,135.8 281.2,131.2 298.8,104.6 303.0,99.2 312.6,70.2 317.9,0.2 549.8,0.2 549.8,371.7 461.8,329.1 431.2,323.5 426.8,324.2 392.8,325.9 384.8,325.9 380.2,326.3 376.2,327.1 362.2,331.7 348.8,335.9 327.2,354.1 323.4,358.8 320.2,363.5 317.1,369.2 299.2,396.4 295.3,401.2 285.7,430.2 284.1,451.8 283.8,451.8ZM298.9,249.2 296.8,241.2 295.2,236.4 292.8,229.2 289.9,221.8 287.8,219.9 284.8,218.0 281.2,216.4 279.8,215.9 279.2,216.0 278.7,218.8 278.5,221.8 278.9,224.8 279.6,227.2 285.1,234.2 291.4,241.8 298.8,249.7 298.9,249.2ZM319.2,284.2 319.7,281.8 319.9,278.8 319.5,275.8 318.8,273.1 309.7,261.8 304.4,255.8 299.8,250.8 299.5,251.2 299.7,252.2 302.2,261.2 305.2,270.1 308.6,278.8 311.2,280.9 314.2,282.7 318.8,284.5 319.2,284.2Z"/>
<path fill="#ffff00" fill-rule="evenodd" d="M281.8,451.8 0.2,451.8 0.2,108.7 136.2,173.0 166.2,178.5 173.8,177.4 204.8,175.8 209.2,176.0 213.2,175.9 216.8,175.7 220.2,175.1 223.2,174.4 235.8,170.3 250.6,165.8 271.8,147.7 274.8,144.3 277.4,140.8 280.2,136.2 283.1,130.8 298.8,106.9 304.8,99.3 314.4,70.2 320.3,0.2 549.8,0.2 549.8,368.8 462.2,327.4 432.2,321.9 424.8,323.0 393.8,324.6 388.2,324.4 383.8,324.5 379.2,325.1 374.8,326.1 347.8,334.7 326.8,352.6 322.4,357.8 318.8,363.2 315.6,369.2 299.2,394.1 295.8,398.3 293.6,401.2 284.1,429.8 282.2,451.8 281.8,451.8ZM320.5,286.2 321.4,282.8 321.7,279.2 321.3,276.2 320.1,272.8 319.8,272.1 317.4,269.2 310.7,261.8 304.9,255.8 298.8,249.8 299.0,249.2 298.9,248.8 296.2,238.1 293.2,227.3 291.2,221.0 288.8,218.7 285.8,216.7 282.2,215.0 278.2,213.7 277.9,214.2 277.1,216.8 276.7,220.8 277.1,224.2 278.3,227.8 281.5,231.8 287.8,238.8 299.7,250.8 299.5,251.2 299.6,252.2 302.2,262.7 305.2,273.4 307.2,279.5 310.2,282.2 313.8,284.3 316.2,285.4 319.2,286.5 320.2,286.7 320.5,286.2Z"/>
<path fill="#ffef00" fill-rule="evenodd" d="M280.2,451.8 0.2,451.8 0.2,112.2 135.2,174.5 165.8,180.1 175.8,178.5 203.8,177.1 208.8,177.4 213.2,177.4 217.2,177.0 220.8,176.4 224.2,175.6 238.2,171.1 251.2,167.2 272.2,149.3 275.9,145.2 279.2,140.8 281.9,136.2 284.6,130.8 299.2,108.5 302.8,104.5 306.4,99.8 316.0,70.8 322.6,0.2 549.8,0.2 549.8,365.9 463.2,325.9 432.8,320.3 428.2,320.9 422.8,321.9 394.8,323.3 387.2,323.0 383.8,323.1 380.2,323.5 374.2,324.8 359.8,329.5 347.2,333.2 326.2,351.0 322.8,354.9 318.8,360.2 316.5,364.2 313.7,369.8 299.2,391.8 295.4,396.2 292.0,400.8 282.4,429.8 280.2,451.8ZM321.3,288.8 321.8,288.3 322.8,285.8 323.4,283.8 323.7,281.8 323.7,279.8 323.5,277.8 322.5,274.2 320.8,271.2 315.7,265.8 307.6,257.8 298.9,249.8 299.0,249.2 298.4,246.2 295.2,232.4 292.3,221.2 291.2,219.2 290.2,217.8 289.2,216.9 285.2,214.4 280.8,212.6 277.2,211.6 276.9,211.8 276.3,212.8 275.4,215.2 274.9,217.2 274.7,219.2 274.9,222.8 276.0,226.2 277.7,229.2 282.8,234.8 290.3,242.2 298.8,249.8 299.5,250.8 299.4,251.2 299.5,252.2 303.2,268.4 306.1,279.2 307.2,281.2 307.8,282.2 308.8,283.1 310.8,284.6 312.8,285.8 316.8,287.5 321.3,288.8Z"/>
<path fill="#ffdf00" fill-rule="evenodd" d="M278.2,451.8 0.2,451.8 0.2,115.7 134.8,176.2 165.2,181.6 171.2,180.9 177.2,179.6 202.8,178.3 208.2,178.8 213.2,178.8 217.2,178.5 220.8,177.9 224.8,176.9 252.2,168.4 272.8,150.9 276.2,147.2 279.7,142.8 283.0,137.2 286.1,130.8 298.8,111.5 304.2,105.1 308.2,99.8 317.7,70.8 325.0,0.2 549.8,0.2 549.8,362.9 463.8,324.2 433.8,318.8 427.8,319.4 421.2,320.8 395.8,322.1 387.8,321.5 383.8,321.6 380.2,322.0 374.2,323.3 359.2,328.1 346.8,331.8 346.2,332.0 325.8,349.5 321.3,354.2 318.8,357.6 316.5,361.2 314.3,365.2 312.2,369.8 299.2,389.5 294.8,394.6 290.5,400.2 280.7,429.8 278.4,451.8 278.2,451.8ZM322.8,290.8 324.9,286.8 326.0,283.2 326.1,279.8 325.8,277.8 325.3,276.2 322.0,270.8 320.1,268.8 310.1,259.2 304.8,254.6 299.8,250.7 298.9,249.8 299.0,248.8 298.0,242.8 294.9,228.2 293.0,220.8 291.5,217.8 289.8,215.1 286.2,212.8 283.8,211.6 281.2,210.8 278.2,210.0 275.8,209.5 274.9,210.8 273.7,213.2 272.5,216.8 272.3,220.2 272.9,223.8 275.8,228.8 276.8,230.1 277.9,231.2 288.4,241.2 293.8,245.9 299.2,250.2 299.4,250.8 299.5,252.2 301.1,260.8 303.7,272.8 305.4,279.8 307.0,282.8 308.8,285.4 312.8,287.9 317.8,289.8 321.8,290.8 322.8,290.8Z"/>
<path fill="#ffcf00" fill-rule="evenodd" d="M275.2,451.8 0.2,451.8 0.2,121.2 133.8,178.8 164.2,184.2 172.2,183.3 180.8,181.4 201.2,180.4 207.8,181.2 213.2,181.3 217.2,181.0 221.2,180.3 224.8,179.4 240.2,174.4 253.2,170.7 274.2,152.8 278.7,148.2 282.4,143.2 285.8,137.2 288.9,130.2 299.2,114.5 302.2,111.5 305.2,108.0 310.9,100.2 320.4,71.2 328.9,0.2 549.8,0.2 549.8,358.3 464.8,321.6 434.8,316.3 431.2,316.4 426.8,317.0 417.8,318.9 397.2,320.0 392.2,319.4 387.8,319.1 383.8,319.2 379.8,319.6 374.2,320.8 359.8,325.5 345.2,329.7 324.6,347.2 321.9,349.8 319.2,352.8 316.6,356.2 314.1,360.2 311.8,364.8 309.4,370.2 299.2,385.7 296.2,388.8 293.2,392.3 290.2,396.2 287.5,400.2 277.9,429.2 275.2,451.8ZM324.3,294.2 324.8,294.2 325.6,293.2 328.6,289.2 330.2,286.2 331.0,283.8 331.2,282.2 328.4,276.8 325.2,271.8 322.4,268.2 311.9,259.2 304.5,253.8 299.8,250.6 299.0,249.8 299.0,248.2 297.7,238.8 296.2,230.0 294.5,220.8 292.3,215.8 289.7,211.8 288.2,210.1 283.8,208.1 278.8,206.8 273.8,206.2 271.6,208.8 269.5,211.8 268.2,214.2 267.4,216.8 267.2,218.2 270.0,223.8 273.3,228.8 276.1,232.2 282.4,237.8 287.9,242.2 292.6,245.8 299.1,250.2 301.2,265.1 304.0,279.8 306.2,284.8 308.8,288.8 310.2,290.4 314.2,292.2 318.8,293.5 324.3,294.2Z"/>
<path fill="#ffbf00" fill-rule="evenodd" d="M270.8,451.8 0.2,451.8 0.2,128.8 132.2,182.4 162.8,187.7 168.8,187.4 174.2,186.7 178.8,185.8 184.2,184.1 185.2,184.0 199.2,183.3 203.8,184.2 207.8,184.7 211.8,184.9 215.2,184.8 219.2,184.4 223.2,183.5 226.8,182.3 230.2,180.9 248.2,175.5 249.0,175.8 252.8,179.2 255.8,181.5 258.2,183.0 260.8,184.0 261.0,183.8 261.1,183.2 261.3,180.2 261.3,168.8 261.4,168.2 277.8,154.4 280.5,151.8 282.8,149.1 285.5,145.2 288.1,140.8 290.4,135.8 292.6,129.8 298.8,120.4 299.2,119.7 303.9,115.2 307.2,111.4 311.1,106.2 314.7,100.8 324.2,71.8 334.2,0.2 549.8,0.2 549.8,352.0 466.2,318.0 436.2,312.8 430.8,312.9 424.8,313.6 419.8,314.6 413.2,316.4 399.2,317.1 393.8,316.1 389.2,315.6 384.8,315.5 380.2,315.9 377.2,316.4 374.2,317.2 368.2,319.5 350.2,324.9 349.5,324.8 345.8,321.3 342.8,319.0 340.2,317.5 337.8,316.4 337.4,316.8 337.2,318.8 337.0,324.8 337.1,331.8 336.9,332.2 320.8,345.9 318.2,348.3 315.7,351.2 312.8,355.2 310.3,359.8 308.2,364.2 305.7,370.8 299.2,380.6 295.2,384.4 291.2,388.9 287.2,394.2 283.7,399.8 274.2,428.8 270.9,451.8 270.8,451.8ZM327.6,298.8 339.2,290.2 337.1,284.8 334.0,278.8 331.9,275.2 329.7,272.2 326.8,268.8 324.4,266.2 319.1,262.2 313.3,258.2 305.8,253.8 299.8,250.6 299.1,249.8 299.1,248.2 298.2,236.4 296.3,220.2 295.2,216.2 293.8,212.6 292.2,209.7 290.2,206.9 288.7,205.2 286.8,203.5 284.8,202.9 281.2,202.1 277.8,201.7 272.2,201.4 271.2,201.4 270.8,201.7 259.2,210.2 261.6,216.2 264.4,221.8 266.6,225.2 269.2,228.8 271.7,231.8 274.2,234.2 280.2,238.8 286.1,242.8 291.9,246.2 298.8,249.9 299.1,250.2 300.4,266.2 302.1,280.2 303.2,284.2 304.8,288.0 306.2,290.8 308.2,293.6 309.8,295.2 311.8,296.9 313.8,297.5 317.2,298.3 320.8,298.7 325.8,299.0 327.2,298.9 327.6,298.8Z"/>
<path fill="#ffaf00" fill-rule="evenodd" d="M549.8,347.5 467.2,315.5 437.2,310.3 430.8,310.3 424.2,310.9 417.2,312.3 410.8,314.5 401.2,315.1 394.2,313.6 389.8,313.0 384.8,312.7 380.2,313.0 377.2,313.5 374.2,314.3 370.8,315.6 366.4,317.8 354.8,321.1 349.2,313.2 347.1,309.8 345.9,307.2 345.0,304.8 344.8,302.2 345.3,300.2 346.8,297.8 343.5,291.2 341.6,286.2 339.7,282.2 337.1,277.8 333.9,273.2 329.0,267.8 325.8,264.8 324.3,263.8 319.7,260.8 314.6,257.8 305.9,253.2 299.8,250.6 299.2,249.8 298.9,235.8 297.6,219.8 296.6,214.8 295.4,210.8 293.9,207.2 292.2,204.5 290.8,202.7 289.2,201.2 287.2,199.8 285.2,198.7 279.8,198.0 273.8,197.9 269.2,198.1 267.0,199.2 266.5,199.2 268.1,195.8 268.8,191.8 269.1,187.8 269.3,178.8 268.5,165.8 268.6,165.2 274.8,160.0 277.9,157.8 280.3,155.8 282.9,153.2 285.5,150.2 288.2,146.1 290.8,141.5 292.9,136.2 295.4,129.2 299.2,123.4 302.2,120.9 304.8,118.4 309.8,112.7 313.9,106.8 317.5,100.8 327.0,71.8 338.1,0.2 549.8,0.2 549.8,347.5ZM267.8,451.8 0.2,451.8 0.2,134.1 131.2,184.9 161.2,190.1 168.2,190.1 173.2,189.6 178.2,188.8 182.2,187.8 187.2,186.0 188.2,185.8 197.2,185.3 204.2,186.8 209.2,187.5 214.2,187.7 218.8,187.3 224.2,186.0 228.2,184.5 231.8,182.7 243.8,179.3 249.5,187.8 252.6,193.2 253.4,195.8 253.6,198.2 253.1,200.2 251.7,202.8 254.9,209.2 256.7,213.8 258.8,218.2 261.4,222.8 264.6,227.2 267.1,230.2 270.2,233.5 272.8,235.7 275.0,237.2 280.5,240.8 285.8,243.8 292.7,247.2 298.8,249.9 299.1,250.2 299.7,266.8 300.8,280.8 301.8,285.6 303.0,289.8 304.5,293.2 306.2,296.0 307.8,297.8 309.3,299.2 311.2,300.7 313.2,301.7 318.2,302.4 324.2,302.5 329.2,302.3 331.2,301.2 331.9,301.2 330.3,304.8 329.6,308.8 329.2,313.2 329.2,322.8 329.9,334.8 329.7,335.2 323.8,340.3 320.4,342.8 317.8,344.9 315.2,347.4 312.9,350.2 310.2,354.2 307.5,359.2 305.4,364.2 303.0,371.2 299.2,376.9 293.8,381.9 288.8,387.6 284.8,393.2 281.1,399.2 271.5,428.2 267.8,451.8Z"/>
<path fill="#ff9f00" fill-rule="evenodd" d="M549.8,344.3 468.2,313.7 437.8,308.4 429.8,308.4 422.8,309.0 418.8,309.7 415.2,310.6 411.8,311.8 408.5,313.2 402.2,313.6 395.2,311.9 389.8,310.9 384.8,310.6 379.8,310.9 376.2,311.6 373.2,312.5 369.2,314.2 365.2,316.4 358.8,318.3 358.2,318.3 356.7,315.2 355.2,311.8 354.1,308.2 353.5,304.2 350.3,296.8 348.2,292.8 345.5,288.2 343.7,284.2 341.5,280.2 338.9,276.2 335.8,272.2 330.6,266.8 327.7,264.2 325.6,262.8 319.4,259.2 313.5,256.2 305.7,252.8 299.8,250.5 299.5,250.2 299.2,249.8 299.6,243.2 299.7,237.2 298.8,222.2 298.0,214.8 296.7,208.8 295.5,205.2 293.8,202.0 291.8,199.5 289.2,197.5 286.8,196.1 284.2,195.2 280.2,194.9 276.2,195.0 275.5,194.8 275.7,188.8 275.5,181.8 274.9,173.8 273.7,163.2 275.2,161.9 279.3,159.2 282.4,156.8 285.2,153.9 287.8,150.9 290.4,146.8 292.9,141.8 295.0,136.2 297.1,129.2 299.2,126.1 302.2,123.8 305.0,121.2 307.8,118.3 310.2,115.4 315.0,108.8 319.4,101.2 328.9,72.2 340.9,0.2 549.8,0.2 549.8,344.3ZM265.2,451.8 0.2,451.8 0.2,137.9 130.8,186.8 160.8,192.0 168.8,192.0 173.8,191.7 178.2,191.0 184.2,189.4 189.8,187.2 195.8,186.8 196.8,186.9 203.8,188.6 208.8,189.5 213.8,189.8 218.8,189.5 221.8,188.9 224.8,188.1 228.8,186.4 233.2,184.0 239.8,182.1 240.2,182.2 242.0,185.8 243.5,189.2 244.4,192.8 244.8,195.8 247.9,203.2 250.3,207.8 252.8,211.8 254.8,216.2 257.0,220.2 259.6,224.2 262.7,228.2 267.9,233.8 270.8,236.2 273.0,237.8 279.2,241.2 285.1,244.2 293.0,247.8 298.8,249.9 299.1,250.2 299.1,251.2 298.9,254.2 298.7,260.2 298.9,267.8 300.0,282.8 300.7,287.8 301.7,291.8 302.9,295.2 304.8,298.5 306.8,301.0 309.2,303.0 311.2,304.1 313.8,305.1 317.2,305.4 322.2,305.5 322.9,305.8 322.7,311.2 322.8,318.2 323.5,326.8 324.7,336.8 324.6,337.2 322.8,338.8 319.2,341.1 316.2,343.4 313.3,346.2 310.8,349.4 307.9,353.8 305.5,358.8 303.4,364.2 301.2,371.2 299.2,374.2 296.1,376.8 293.3,379.2 288.2,384.9 283.8,391.2 279.2,398.8 269.5,428.2 265.6,451.8 265.2,451.8Z"/>
<path fill="#ff8f00" fill-rule="evenodd" d="M549.8,341.9 468.8,312.3 438.2,307.1 428.8,306.9 421.2,307.6 416.8,308.5 413.2,309.5 410.0,310.8 406.8,312.3 403.2,312.5 395.8,310.5 390.2,309.4 384.8,308.9 379.8,309.1 376.4,309.8 372.8,310.9 368.8,312.7 364.2,315.4 361.2,316.3 361.0,316.2 359.6,312.8 358.1,307.8 356.7,303.8 355.0,299.8 353.0,295.8 350.4,291.2 347.2,286.6 345.0,282.2 342.6,278.2 340.0,274.8 335.8,269.8 333.3,267.2 330.4,264.8 327.0,262.2 325.3,261.2 319.3,258.2 313.8,255.8 306.4,252.8 299.8,250.5 299.5,250.2 299.3,249.8 299.4,248.2 300.2,242.1 300.8,235.5 300.8,227.8 300.2,220.8 299.2,216.5 298.5,210.2 297.8,206.3 296.8,203.1 295.4,200.2 294.1,198.2 292.2,196.3 290.2,194.9 287.7,193.8 284.8,192.8 281.8,192.5 281.3,192.2 280.9,186.2 280.1,178.2 277.6,162.2 281.3,159.8 284.3,157.2 286.8,154.8 289.2,151.7 292.0,147.2 294.4,142.2 296.4,136.8 298.8,128.8 299.2,128.1 302.8,125.5 305.8,122.8 310.8,117.3 313.4,113.8 316.1,109.8 318.8,105.2 320.9,101.2 330.4,72.2 343.0,0.2 549.8,0.2 549.8,341.9ZM263.8,451.8 0.2,451.8 0.2,140.7 130.3,188.2 160.2,193.4 169.8,193.5 175.8,193.0 181.2,192.0 186.2,190.5 191.3,188.2 192.2,188.0 195.8,187.9 203.2,190.0 210.3,191.2 214.8,191.5 218.7,191.2 222.2,190.6 225.8,189.5 229.5,187.8 234.2,184.9 237.2,184.1 237.5,184.2 238.5,186.8 240.5,193.2 241.9,197.2 243.7,201.2 245.7,205.2 248.4,209.8 251.2,213.9 253.5,218.2 255.9,222.2 258.5,225.8 262.7,230.8 267.5,235.2 270.1,237.2 272.4,238.8 278.3,241.8 283.7,244.2 293.7,248.2 298.8,250.0 299.0,250.2 299.0,251.8 298.2,257.3 297.7,263.2 297.6,272.2 298.2,279.2 299.2,284.7 299.8,289.3 300.7,294.2 301.8,297.6 303.0,300.2 304.4,302.2 306.2,304.1 308.2,305.5 310.8,306.7 314.2,307.7 316.8,307.9 317.1,308.2 317.5,314.8 318.4,322.8 320.8,338.2 317.2,340.6 314.2,343.0 311.5,345.8 309.1,348.8 306.2,353.4 304.0,358.2 301.8,364.5 299.9,371.2 299.2,372.2 295.8,374.9 292.5,377.8 287.8,383.0 282.8,390.0 277.6,398.8 268.1,427.8 263.9,451.8 263.8,451.8Z"/>
<path fill="#ff8000" fill-rule="evenodd" d="M549.8,340.8 468.8,311.5 438.8,306.4 433.8,306.1 428.8,306.1 424.2,306.4 420.2,306.9 416.2,307.7 412.8,308.8 409.2,310.1 406.1,311.8 403.8,311.9 402.8,311.8 395.2,309.6 389.8,308.5 384.8,308.1 379.8,308.2 375.8,309.0 372.2,310.2 368.2,312.1 363.8,315.0 362.2,315.3 359.9,307.8 358.5,303.8 356.5,299.2 354.4,295.2 351.4,290.2 347.8,285.2 345.6,281.2 343.4,277.8 339.2,272.2 336.6,269.2 331.6,264.8 326.5,261.2 320.3,258.2 314.5,255.8 308.1,253.2 302.2,251.2 299.8,250.5 299.5,250.2 299.3,249.8 299.4,249.2 300.6,241.8 301.4,234.8 301.7,229.2 301.7,224.2 301.5,220.2 299.2,210.6 298.3,204.8 297.4,201.8 296.4,199.2 295.2,197.3 293.8,195.6 292.2,194.4 290.2,193.2 284.5,191.2 283.0,180.8 279.5,162.2 279.7,161.8 283.2,159.3 286.1,156.8 288.4,154.2 290.3,151.8 293.0,147.2 295.2,142.2 297.2,136.5 299.2,129.2 303.1,126.2 305.8,123.9 308.4,121.2 311.0,118.2 313.6,114.8 316.2,110.9 321.5,101.8 331.1,72.2 344.0,0.2 549.8,0.2 549.8,340.8ZM262.8,451.8 0.2,451.8 0.2,142.1 129.8,188.9 159.8,194.0 165.2,194.3 170.2,194.2 176.2,193.8 181.8,192.8 187.2,191.1 192.2,188.7 194.8,188.5 203.2,190.8 208.8,191.9 214.2,192.4 219.2,192.1 222.8,191.4 226.2,190.2 230.2,188.2 234.8,185.4 235.8,185.1 236.2,185.2 238.5,192.8 240.0,196.8 241.9,201.2 244.0,205.2 247.1,210.2 250.4,214.8 252.8,219.2 255.1,222.8 258.8,227.8 261.9,231.2 267.0,235.8 269.7,237.8 272.1,239.2 278.3,242.2 284.1,244.8 293.8,248.4 298.8,250.0 299.0,250.2 299.0,251.2 297.9,257.8 297.1,264.8 296.7,270.2 296.7,275.8 296.9,280.2 299.2,290.4 300.1,295.8 301.0,298.8 302.0,301.2 303.2,303.2 304.6,304.8 306.2,306.1 307.8,307.0 310.2,308.0 313.2,308.8 313.9,309.2 315.4,319.8 318.9,338.2 318.6,338.8 315.7,340.8 312.7,343.2 310.3,345.8 308.2,348.4 305.6,352.8 303.3,357.8 301.2,363.6 299.1,371.2 295.2,374.2 292.8,376.4 289.9,379.2 287.3,382.2 284.7,385.8 282.0,389.8 276.9,398.8 267.4,427.8 263.1,451.8 262.8,451.8Z"/>
<path fill="#ff7000" fill-rule="evenodd" d="M549.8,339.6 469.2,310.9 438.8,305.7 433.2,305.4 428.2,305.4 423.8,305.6 419.8,306.1 416.2,306.8 412.8,307.8 408.8,309.4 405.3,311.2 404.2,311.4 403.2,311.3 395.2,308.9 389.8,307.7 384.2,307.2 379.8,307.3 375.8,308.1 371.8,309.5 368.2,311.2 363.8,314.1 363.5,313.8 361.8,307.8 360.3,303.8 358.3,299.2 355.9,294.8 352.7,289.8 348.8,284.6 346.6,280.8 344.3,277.2 340.5,272.2 337.3,268.8 332.1,264.2 326.8,260.8 320.2,257.8 314.1,255.2 306.8,252.6 299.6,250.2 299.4,249.8 299.4,249.2 301.5,238.2 302.6,228.8 302.9,220.8 302.2,216.8 298.5,201.2 297.1,197.2 295.8,195.2 293.8,193.3 291.8,192.1 288.7,190.8 285.8,180.6 281.3,161.8 284.6,159.2 286.9,157.2 289.2,154.8 291.1,152.2 293.2,148.6 295.3,144.2 297.3,138.8 299.2,132.0 300.5,129.2 303.8,126.8 306.6,124.2 309.2,121.5 312.0,118.2 314.6,114.8 317.2,110.8 322.2,101.8 331.7,72.8 345.0,0.2 549.8,0.2 549.8,339.6ZM261.8,451.8 0.2,451.8 0.2,143.5 129.2,189.5 159.8,194.7 165.8,195.0 170.8,195.0 177.2,194.5 182.8,193.4 187.2,192.0 190.2,190.7 192.9,189.2 194.2,189.0 194.8,189.0 203.2,191.5 208.8,192.7 214.2,193.2 219.2,193.0 223.2,192.2 226.8,190.9 230.2,189.1 234.8,186.2 236.3,191.8 237.9,196.2 239.9,200.8 242.3,205.2 245.8,210.8 249.8,215.9 251.9,219.8 254.2,223.2 258.0,228.2 261.2,231.8 266.4,236.2 269.3,238.2 271.8,239.8 278.4,242.8 284.6,245.2 293.2,248.4 298.8,250.0 299.0,250.2 299.0,251.2 296.8,262.8 295.8,271.2 295.5,279.8 296.2,283.8 299.9,299.2 301.4,303.2 302.7,305.2 304.2,306.8 306.2,308.1 309.0,309.2 309.8,309.8 312.8,320.2 317.1,338.8 314.2,340.8 311.4,343.2 309.2,345.6 307.3,348.2 305.2,351.8 303.0,356.2 301.0,361.8 299.2,368.1 297.8,371.2 294.8,373.5 292.2,375.8 289.2,378.7 286.7,381.8 284.1,385.2 281.4,389.2 276.4,398.2 266.6,427.8 262.2,451.8 261.8,451.8Z"/>
<path fill="#ff6000" fill-rule="evenodd" d="M549.8,338.5 469.8,310.3 439.2,305.1 433.8,304.7 428.2,304.6 423.8,304.8 419.2,305.4 415.2,306.2 411.2,307.4 407.8,308.9 404.2,310.8 396.2,308.4 390.2,307.0 384.8,306.3 379.8,306.4 376.2,307.0 372.8,308.1 369.2,309.7 365.2,312.2 363.2,306.2 361.6,302.2 359.4,297.8 357.1,293.8 353.7,288.8 349.3,283.2 346.9,279.2 343.1,273.8 340.6,270.8 338.2,268.2 335.3,265.8 332.7,263.8 327.1,260.2 319.8,257.1 313.2,254.6 305.8,252.1 299.6,250.2 299.4,249.8 299.5,249.2 301.9,238.8 303.7,227.2 304.3,220.8 303.7,216.8 301.6,207.2 298.7,196.8 297.8,194.7 296.3,192.8 294.8,191.4 292.8,190.2 290.7,186.2 289.0,181.8 287.2,176.5 283.3,161.8 283.4,161.2 286.6,158.8 289.2,156.1 291.2,153.6 293.2,150.5 296.0,144.8 297.7,140.2 299.2,134.9 302.0,129.2 304.8,127.1 307.8,124.3 310.2,121.7 313.0,118.2 315.5,114.8 318.1,110.8 323.0,101.8 332.5,72.8 346.1,0.2 549.8,0.2 549.8,338.5ZM261.2,451.8 0.2,451.8 0.2,144.9 129.2,190.3 159.2,195.3 164.8,195.7 170.2,195.8 177.2,195.3 183.2,194.2 188.8,192.3 194.2,189.6 202.8,192.2 208.8,193.6 214.2,194.2 219.2,194.0 222.8,193.3 226.2,192.1 229.2,190.6 233.2,188.2 234.9,193.2 236.6,197.8 238.8,202.2 241.0,206.2 244.8,211.8 248.8,216.8 251.6,221.2 255.0,226.2 257.5,229.2 260.3,232.2 265.2,236.2 268.1,238.2 271.2,240.1 278.8,243.3 284.2,245.5 293.2,248.5 298.8,250.1 298.9,250.2 298.9,251.2 296.1,263.8 294.8,272.2 294.1,279.8 294.6,283.2 296.8,292.9 299.8,303.8 300.8,305.8 302.2,307.8 303.3,308.8 305.6,310.2 307.8,314.3 309.3,318.2 311.1,323.8 315.2,338.8 314.9,339.2 311.8,341.7 309.2,344.2 307.2,346.8 305.2,349.8 302.3,355.8 300.7,360.2 299.2,365.2 296.7,370.8 290.8,376.0 288.2,378.6 285.7,381.8 283.1,385.2 280.5,389.2 275.6,398.2 265.9,427.8 261.4,451.8 261.2,451.8Z"/>
<path fill="#ff5000" fill-rule="evenodd" d="M549.8,336.7 470.2,309.2 439.8,304.1 434.2,303.6 428.8,303.4 424.2,303.5 419.8,304.0 415.8,304.7 412.2,305.6 408.8,307.0 404.8,308.9 399.8,308.3 393.8,306.5 388.2,305.2 384.2,304.8 380.2,304.8 377.2,305.2 374.2,306.0 371.2,307.2 367.8,309.1 367.2,308.8 365.3,303.8 363.2,299.2 361.3,295.8 359.0,292.2 355.3,287.2 350.5,281.8 346.7,275.8 344.5,272.8 341.9,269.8 338.7,266.8 333.3,262.8 327.8,259.6 320.8,256.8 313.8,254.4 305.8,251.9 299.6,250.2 299.5,249.8 299.5,249.2 303.9,233.2 306.0,223.8 306.5,220.8 306.0,217.2 305.0,211.2 303.5,204.8 299.3,189.8 295.6,185.2 294.1,182.8 292.6,179.8 289.4,171.8 286.1,161.2 286.4,160.8 288.8,158.8 291.1,156.2 293.0,153.8 294.5,151.2 297.0,145.8 299.2,139.3 301.5,134.8 303.7,129.8 309.2,124.7 311.8,121.9 314.2,118.7 316.8,115.1 319.2,111.1 324.2,101.8 333.6,72.8 347.7,0.2 549.8,0.2 549.8,336.7ZM259.8,451.8 0.2,451.8 0.2,147.0 128.8,191.3 158.8,196.3 164.8,196.8 170.2,197.0 176.8,196.7 182.8,195.7 187.8,194.2 190.8,192.9 193.2,191.6 193.8,191.5 198.8,192.2 204.8,194.0 209.2,195.0 212.8,195.5 216.2,195.7 220.2,195.4 223.8,194.6 226.8,193.4 230.9,191.2 234.7,200.2 236.9,204.2 239.1,207.8 243.2,213.2 247.8,218.4 251.4,224.2 253.6,227.2 256.1,230.2 259.3,233.2 264.5,237.2 270.8,240.9 276.7,243.2 283.8,245.7 291.2,248.1 298.9,250.2 298.9,251.2 295.2,264.8 292.8,274.8 291.9,279.2 292.3,282.8 293.4,288.8 294.9,295.8 296.9,303.2 299.1,310.8 301.2,313.1 302.8,315.1 304.2,317.6 305.9,320.8 309.0,328.8 312.3,339.2 309.5,341.8 307.6,343.8 305.7,346.2 303.9,349.2 301.5,354.2 299.2,360.9 296.8,365.8 294.7,370.8 291.8,373.2 289.2,375.6 286.8,378.4 284.2,381.5 281.8,385.1 279.2,389.2 274.4,398.2 264.9,427.2 260.1,451.8 259.8,451.8Z"/>
<path fill="#ff4000" fill-rule="evenodd" d="M549.8,334.1 470.8,307.6 440.2,302.5 434.8,301.9 429.2,301.6 424.8,301.5 420.2,301.8 416.2,302.4 412.8,303.2 409.2,304.4 406.2,305.7 399.2,304.7 392.8,304.1 386.8,302.7 382.2,302.2 379.2,302.3 376.8,302.7 374.2,303.3 371.2,304.6 370.8,304.3 368.8,300.2 366.5,296.2 362.4,290.2 359.5,286.8 352.6,279.2 349.8,274.8 347.0,271.2 344.1,268.2 340.5,265.2 337.7,263.2 334.3,261.2 327.8,258.1 321.2,255.9 314.2,253.8 299.7,250.2 299.5,249.8 299.8,248.6 304.5,234.2 308.3,221.8 308.9,216.8 308.9,212.8 306.9,202.2 303.8,190.2 299.2,179.5 296.8,175.4 294.5,170.8 290.6,160.8 290.7,160.2 292.6,158.2 294.2,156.2 296.3,152.8 297.8,149.8 299.2,145.9 301.2,142.5 303.3,138.2 306.6,130.2 312.0,124.8 316.6,118.8 321.2,111.2 325.7,102.2 335.2,73.2 350.1,0.2 549.8,0.2 549.8,334.1ZM257.8,451.8 0.2,451.8 0.2,150.1 128.2,192.9 158.2,197.9 164.2,198.5 169.8,198.8 176.2,198.7 182.2,198.0 187.2,196.7 192.2,194.7 199.2,195.7 205.8,196.3 211.2,197.6 216.2,198.2 219.2,198.1 221.8,197.7 224.2,197.0 227.2,195.8 227.7,196.2 229.6,200.2 231.6,203.8 236.1,210.2 239.0,213.8 245.9,221.2 248.7,225.8 251.5,229.2 254.4,232.2 258.0,235.2 260.9,237.2 264.2,239.2 270.8,242.4 277.2,244.6 283.8,246.5 298.9,250.2 298.8,251.6 294.0,265.8 290.0,278.8 289.5,283.2 289.4,287.2 291.4,297.8 294.7,310.2 299.2,321.1 301.8,325.2 304.0,329.8 307.9,339.8 307.6,340.2 304.5,343.8 302.0,347.8 300.6,350.8 299.2,354.2 297.0,358.2 295.0,362.2 291.8,370.2 288.6,373.2 286.3,375.8 281.8,381.7 277.2,389.0 272.6,398.2 263.2,427.2 258.2,451.8 257.8,451.8Z"/>
<path fill="#ff3000" fill-rule="evenodd" d="M549.8,331.4 470.8,305.9 440.8,300.9 434.8,300.1 429.2,299.7 422.8,299.6 417.2,300.0 412.2,300.9 407.8,302.4 395.2,300.5 390.2,300.0 385.2,299.8 381.8,299.4 378.2,299.4 374.8,300.1 374.2,299.8 371.1,294.8 367.7,290.2 360.9,282.2 354.2,275.0 350.9,270.8 347.3,267.2 342.7,263.8 339.4,261.8 334.7,259.2 328.2,256.4 322.2,254.8 315.2,253.1 299.7,250.2 299.5,249.8 299.8,248.8 310.0,222.2 310.7,218.2 311.3,213.8 311.5,209.2 311.4,205.2 310.6,200.8 309.1,194.2 308.2,190.8 307.0,187.2 303.2,177.9 296.8,164.3 295.0,160.2 294.9,159.8 297.2,156.5 299.2,152.6 301.5,149.2 303.7,145.2 306.4,139.2 309.7,130.2 314.2,125.4 318.8,119.1 323.2,111.2 327.5,102.2 336.9,73.2 352.5,0.2 549.8,0.2 549.8,331.4ZM255.8,451.8 0.2,451.8 0.2,153.3 127.2,194.5 157.8,199.5 168.8,200.7 175.2,200.9 181.2,200.4 186.2,199.5 190.8,197.9 203.2,199.9 208.2,200.4 212.8,200.6 216.8,201.0 220.2,201.0 223.8,200.3 224.2,200.7 227.7,206.2 230.4,209.8 237.6,218.2 244.2,225.5 247.2,229.2 251.2,233.2 255.9,236.8 259.2,238.8 263.9,241.2 269.8,243.9 276.6,245.8 283.0,247.2 298.9,250.2 298.8,251.4 288.4,278.2 287.6,282.8 287.1,286.8 286.9,290.8 287.0,294.8 287.2,297.0 288.7,303.8 290.1,309.2 291.1,312.2 294.8,321.6 301.8,336.3 303.4,340.2 303.4,340.8 301.2,343.8 299.2,347.6 296.8,351.2 294.6,355.2 291.8,361.8 288.9,369.8 283.9,375.2 279.8,381.1 275.4,388.8 271.0,397.8 261.6,426.8 256.2,451.8 255.8,451.8Z"/>
<path fill="#ff2000" fill-rule="evenodd" d="M549.8,328.8 471.8,304.3 439.2,299.0 430.2,297.8 423.8,297.4 418.2,297.5 413.8,298.1 408.8,299.3 399.2,297.3 391.2,296.0 384.2,295.5 378.2,295.6 377.8,295.4 371.6,287.8 365.0,280.2 353.9,268.8 351.7,266.8 349.2,264.8 342.8,260.6 336.1,257.2 328.8,254.6 315.5,252.2 299.7,250.2 299.6,249.8 299.8,248.9 311.7,222.8 312.9,217.8 313.7,213.2 314.2,208.8 314.4,204.2 314.2,200.2 313.8,196.0 312.7,191.2 311.1,186.2 309.0,180.2 306.3,173.8 303.5,167.8 299.3,159.2 301.1,157.2 302.9,154.8 304.6,151.8 306.2,148.5 309.4,140.8 312.5,130.8 316.8,125.8 320.8,119.7 324.8,112.2 329.1,102.8 338.7,73.2 355.0,0.2 549.8,0.2 549.8,328.8ZM253.8,451.8 0.2,451.8 0.2,156.4 126.8,196.1 159.2,201.4 168.2,202.6 174.8,203.0 180.2,202.9 184.8,202.3 189.8,201.2 199.2,203.1 207.2,204.4 214.2,204.9 220.2,204.8 220.8,205.2 226.9,212.8 233.0,219.8 244.6,231.8 249.2,235.7 255.6,239.8 258.8,241.5 262.6,243.2 269.8,245.8 282.2,248.1 298.8,250.2 298.8,251.2 286.7,277.8 285.5,282.8 284.7,287.2 284.2,291.8 284.0,296.2 284.2,300.2 284.6,304.2 285.7,309.2 287.1,313.8 289.3,319.8 291.7,325.8 295.2,333.2 299.0,340.8 299.0,341.2 297.2,343.3 295.5,345.8 293.8,348.7 292.2,351.8 289.2,359.1 285.8,369.8 281.8,374.5 277.6,380.8 273.6,388.2 269.2,397.8 259.8,426.8 254.2,451.8 253.8,451.8Z"/>
<path fill="#ff1000" fill-rule="evenodd" d="M549.8,326.2 472.2,302.7 435.8,296.7 428.2,295.7 422.8,295.2 418.2,295.1 414.2,295.4 410.2,296.1 400.2,293.6 392.8,292.1 386.2,291.1 380.2,290.6 379.8,290.2 374.3,283.8 368.8,277.8 364.0,272.8 359.3,268.2 355.3,264.8 352.2,262.4 348.9,260.2 345.2,258.3 341.8,256.7 337.8,255.1 333.8,253.9 329.2,252.8 316.8,251.4 299.8,250.2 299.6,249.8 299.8,249.1 313.3,223.2 315.0,218.2 316.3,213.2 317.1,208.2 317.6,203.8 317.7,199.2 317.4,194.8 316.9,191.2 315.8,186.8 313.9,180.8 311.5,174.2 308.5,167.2 305.1,160.2 305.2,159.8 307.9,154.8 310.3,148.8 312.8,141.2 315.4,131.2 319.5,125.8 323.1,119.8 326.8,112.2 330.9,102.8 340.3,73.8 357.4,0.2 549.8,0.2 549.8,326.2ZM252.2,451.8 0.2,451.8 0.2,159.5 125.8,197.6 162.8,203.7 170.2,204.8 175.8,205.2 180.2,205.3 184.2,205.0 188.2,204.3 197.8,206.7 205.8,208.3 212.2,209.3 218.2,209.8 229.2,222.2 234.0,227.2 238.7,231.8 241.4,234.2 245.8,237.8 249.2,240.0 252.8,241.9 256.7,243.8 260.6,245.2 264.8,246.5 269.2,247.6 281.8,249.0 298.8,250.2 298.8,251.1 297.8,253.1 285.0,277.2 283.4,282.2 282.1,287.2 281.3,292.2 280.8,296.8 280.7,301.2 281.0,305.8 281.4,308.8 282.5,313.2 284.5,319.8 287.0,326.2 290.0,333.2 293.3,340.2 290.6,345.2 288.2,351.2 285.8,358.9 283.0,369.2 279.2,374.2 275.2,380.8 271.3,388.8 267.5,397.8 258.1,426.8 252.2,451.8Z"/>
<path fill="#ff0000" fill-rule="evenodd" d="M549.8,323.6 473.2,301.2 442.8,296.2 434.2,294.6 427.2,293.4 418.8,292.6 411.2,292.8 394.2,288.1 387.8,286.6 382.2,285.6 372.3,274.8 360.2,262.8 358.2,261.1 355.4,259.2 349.2,256.1 344.8,254.3 340.2,253.0 335.2,251.8 329.8,250.9 299.8,250.0 299.8,249.2 305.2,239.9 315.2,224.2 318.3,215.2 319.9,209.8 321.0,203.8 321.5,198.2 321.5,194.2 320.8,188.8 319.5,183.2 317.2,176.2 314.5,169.2 310.8,160.8 312.5,155.8 314.2,149.5 318.3,131.8 321.6,126.8 324.2,122.1 327.1,116.2 330.1,109.2 332.6,102.8 341.9,74.2 359.9,0.2 549.8,0.2 549.8,323.6ZM250.2,451.8 0.2,451.8 0.2,162.6 125.2,199.2 155.2,204.1 164.2,205.9 171.2,207.0 179.8,207.8 183.2,207.8 186.8,207.5 204.2,212.3 216.2,214.9 226.2,225.8 238.2,237.7 240.2,239.3 243.2,241.2 249.2,244.4 253.8,246.1 258.2,247.5 263.2,248.6 268.8,249.5 281.8,249.9 298.8,250.2 298.8,250.9 294.2,258.7 283.4,275.8 280.2,284.8 278.5,290.8 277.4,296.2 276.9,301.8 276.9,306.2 277.6,311.2 279.0,317.2 281.1,323.8 283.5,330.2 287.5,339.8 286.0,344.2 284.2,350.5 280.1,368.8 276.4,374.2 273.2,380.1 269.8,387.7 265.9,397.2 256.5,426.2 250.2,451.8Z"/>
<path fill="#ef0000" fill-rule="evenodd" d="M549.8,321.0 473.8,299.5 443.8,294.7 433.8,292.5 425.2,290.9 418.8,290.0 412.8,289.6 384.2,280.5 374.5,270.2 369.3,264.2 363.8,259.0 358.8,255.4 354.2,253.5 349.8,252.0 336.8,248.9 329.2,247.7 316.2,248.6 301.2,249.9 299.8,249.9 299.8,249.5 300.8,248.1 317.3,226.2 319.1,222.8 320.6,219.2 321.9,215.8 322.9,212.2 323.7,207.8 325.1,202.2 325.8,197.2 325.9,193.8 325.5,189.2 324.6,183.8 323.1,178.2 321.5,173.8 316.6,161.8 316.6,161.2 318.2,150.0 321.2,132.2 324.1,127.2 326.6,122.2 331.5,110.8 334.4,102.8 343.6,74.2 362.3,0.2 549.8,0.2 549.8,321.0ZM248.2,451.8 0.2,451.8 0.2,165.7 124.2,200.7 154.8,205.7 165.2,208.0 173.2,209.5 179.8,210.4 185.8,210.8 213.8,219.8 214.2,220.0 223.5,229.8 229.2,236.4 234.8,241.4 239.8,245.0 244.2,247.0 248.8,248.4 256.9,250.2 262.2,251.6 269.2,252.7 284.8,251.6 298.8,250.3 298.8,250.8 298.2,251.5 281.1,274.2 277.9,280.8 276.6,284.2 275.6,287.8 273.4,297.8 272.6,302.8 272.5,306.2 272.9,311.2 273.9,317.2 275.5,322.8 281.8,338.8 280.8,346.5 278.8,358.9 277.2,368.2 274.0,373.8 271.1,379.8 267.5,388.2 264.1,397.2 254.7,426.2 248.2,451.8Z"/>
<path fill="#df0000" fill-rule="evenodd" d="M549.8,318.3 474.8,297.9 444.2,293.0 425.8,288.5 414.2,286.2 398.4,280.2 386.7,275.2 384.6,273.2 380.8,267.8 377.1,263.2 373.3,259.2 369.8,256.1 366.0,253.2 361.1,250.2 359.2,248.8 354.8,246.8 350.2,245.3 345.2,244.2 340.2,243.5 334.8,243.3 328.8,243.6 317.8,245.8 307.2,248.0 306.8,248.3 305.2,248.4 304.8,248.8 303.2,248.9 302.8,249.3 301.2,249.3 300.8,249.8 299.8,249.8 311.5,237.2 319.5,228.2 320.6,226.8 324.1,221.8 326.9,216.8 328.9,212.2 330.4,207.8 331.2,203.8 331.6,199.8 330.9,195.2 330.9,189.2 330.2,183.2 329.3,178.8 328.0,174.2 325.8,168.8 322.8,162.4 322.5,160.2 322.3,155.2 322.6,149.2 323.3,141.8 324.3,132.8 324.4,132.2 326.5,128.2 328.8,123.2 333.0,112.2 336.1,103.2 345.3,74.8 365.0,0.2 549.8,0.2 549.8,318.3ZM245.8,451.8 0.2,451.8 0.2,168.9 123.8,202.5 154.2,207.4 172.2,211.8 184.2,214.2 200.2,220.2 211.8,225.2 213.8,227.2 217.7,232.8 221.4,237.2 224.8,240.8 228.6,244.2 232.8,247.4 237.4,250.2 238.8,251.4 243.2,253.5 248.2,255.1 253.2,256.2 258.2,256.9 263.8,257.1 269.8,256.8 280.8,254.6 290.8,252.5 291.2,252.2 292.8,252.1 293.2,251.7 294.8,251.6 295.2,251.2 296.8,251.2 297.2,250.8 298.3,250.8 282.8,267.8 278.8,272.2 277.3,274.2 274.0,279.2 271.4,283.8 269.4,288.2 268.0,292.8 267.1,296.8 266.8,300.8 267.5,305.2 267.5,311.2 268.2,317.2 269.2,321.8 270.5,326.2 272.6,331.8 275.5,337.8 275.9,340.2 276.1,345.2 275.8,351.2 275.1,358.8 274.0,367.8 271.0,374.2 268.4,380.2 262.4,396.8 253.0,425.8 246.2,451.8 245.8,451.8Z"/>
<path fill="#cf0000" fill-rule="evenodd" d="M549.8,310.0 475.8,292.3 472.6,292.8 465.2,294.3 463.8,294.3 444.8,291.3 415.8,282.9 407.1,279.2 406.1,278.8 388.2,265.7 384.8,261.2 380.8,256.8 377.0,253.2 373.2,250.2 371.2,246.9 369.8,244.7 367.6,242.2 365.3,240.2 362.2,238.4 359.2,237.2 356.2,236.7 351.2,236.2 345.1,223.8 336.8,212.8 339.3,208.2 340.7,204.8 341.5,200.8 341.4,197.2 340.8,194.2 339.8,191.2 336.6,185.2 335.9,179.2 334.8,174.3 333.3,169.8 331.9,166.2 330.8,160.2 329.8,156.4 328.3,151.8 326.8,147.8 326.9,141.2 327.5,132.8 330.2,126.0 333.2,117.7 341.2,93.2 350.7,76.2 373.3,0.2 549.8,0.2 549.8,310.0ZM239.2,451.8 0.2,451.8 0.2,178.8 122.8,208.1 128.0,207.2 133.2,206.1 135.2,206.1 137.8,206.5 153.8,209.1 182.8,217.6 192.4,221.8 210.2,234.8 213.8,239.3 217.3,243.2 220.9,246.8 225.3,250.2 227.2,253.7 228.8,255.8 230.9,258.2 233.2,260.3 236.2,262.1 239.5,263.2 242.2,263.8 247.2,264.2 253.3,276.8 261.4,287.2 261.5,287.8 258.8,292.8 257.7,295.8 256.9,299.8 257.1,303.8 257.7,306.8 258.6,309.2 259.8,311.8 261.8,315.0 262.3,319.8 263.3,324.8 264.8,329.6 266.5,334.2 267.2,338.3 268.8,344.4 271.7,352.8 271.6,357.8 270.9,367.8 268.2,374.1 265.2,382.4 257.2,406.9 247.6,424.2 239.5,451.8 239.2,451.8Z"/>
<path fill="#bf0000" fill-rule="evenodd" d="M549.8,299.7 476.7,285.2 470.8,285.8 463.2,287.0 456.2,288.5 450.4,290.2 449.2,290.3 445.2,289.8 435.9,286.8 417.2,275.3 402.8,264.7 389.8,255.8 384.2,250.2 380.8,228.2 372.2,207.8 358.8,190.3 353.5,185.8 341.9,176.2 340.2,169.8 339.6,161.2 338.9,157.2 338.0,153.2 336.5,148.2 334.9,143.8 332.9,139.2 330.4,134.2 330.5,132.8 331.8,129.5 334.2,125.6 337.2,120.2 340.2,114.2 343.9,106.2 351.2,92.8 358.2,79.2 385.5,0.2 549.8,0.2 549.8,299.7ZM229.2,451.8 0.2,451.8 0.2,191.2 121.8,215.2 128.8,214.4 136.2,213.2 142.7,211.8 148.2,210.1 150.2,210.1 153.2,210.6 162.7,213.8 181.2,225.1 195.7,235.8 208.8,244.6 214.3,250.2 216.4,264.8 217.7,272.2 226.0,292.2 239.8,310.2 245.6,315.2 256.2,323.8 256.6,324.2 258.2,330.8 258.4,335.2 258.8,339.2 259.5,343.2 260.5,347.8 263.2,355.8 265.3,360.8 267.8,365.8 268.0,366.8 267.9,367.8 266.8,370.8 264.2,374.7 261.2,380.0 258.2,386.0 254.4,394.2 247.8,406.4 240.3,420.8 229.6,451.8 229.2,451.8Z"/>
<path fill="#af0000" fill-rule="evenodd" d="M549.8,289.4 477.2,278.1 467.8,278.6 459.8,279.4 452.8,280.5 446.8,281.8 446.2,281.7 431.2,272.5 418.8,264.5 407.8,256.8 398.1,250.2 399.0,246.8 400.8,241.8 402.6,237.8 404.8,233.8 407.0,230.2 409.8,226.6 412.6,223.2 416.8,218.8 416.2,207.8 416.4,202.8 416.7,198.2 417.3,193.8 418.2,189.2 419.3,184.8 420.8,180.2 420.2,179.8 411.2,176.8 402.2,173.0 394.8,169.4 385.2,164.1 375.2,165.5 366.8,165.9 362.2,165.7 357.8,165.2 352.8,164.4 349.2,163.6 348.8,156.8 347.8,150.8 346.2,144.8 344.1,138.8 345.5,132.8 347.9,124.2 352.5,109.8 365.6,82.8 398.3,0.2 549.8,0.2 549.8,289.4ZM219.2,451.8 0.2,451.8 0.2,203.4 120.8,222.2 129.2,221.9 138.2,221.0 145.2,220.0 151.8,218.5 163.7,225.8 178.8,235.3 190.2,243.4 200.4,250.2 199.0,254.8 197.5,258.8 195.7,262.8 193.5,266.8 191.3,270.2 188.7,273.8 181.6,281.8 182.2,292.2 182.0,297.2 181.7,301.8 181.0,306.8 180.2,311.2 179.0,315.8 177.6,320.2 178.2,320.7 188.2,324.1 196.2,327.4 204.8,331.6 212.8,336.2 213.2,336.4 218.8,335.4 223.8,334.8 231.8,334.5 240.2,335.1 244.8,335.8 249.1,336.8 249.6,343.8 250.5,349.2 252.0,355.2 254.3,361.8 251.2,373.8 245.8,390.8 232.8,417.8 219.2,451.8Z"/>
<path fill="#9f0000" fill-rule="evenodd" d="M446.2,145.5 437.8,144.8 428.2,143.3 419.8,141.2 411.2,138.4 406.8,139.1 391.8,142.3 381.2,144.0 374.8,144.7 368.8,145.1 360.2,145.2 359.8,145.0 359.0,138.8 359.1,131.2 360.1,122.8 361.9,113.2 373.8,85.8 412.5,0.2 549.8,0.2 549.8,71.9 446.2,145.5ZM549.8,278.5 478.2,270.5 461.2,270.2 448.2,270.7 447.8,270.6 433.8,261.7 416.7,250.2 418.2,247.3 421.8,241.7 428.6,231.8 436.0,222.2 445.6,210.8 448.4,201.2 452.2,191.8 456.8,182.2 462.2,172.8 549.8,131.2 549.8,278.5ZM0.8,391.9 0.2,392.1 0.2,216.4 119.8,229.9 136.8,230.2 150.2,229.7 166.8,240.1 181.8,250.2 175.9,259.8 169.3,269.2 161.6,279.2 153.0,289.2 149.9,299.2 146.4,308.2 141.8,317.8 136.2,327.5 0.8,391.9ZM207.8,451.8 16.0,451.8 152.2,354.8 161.2,355.6 170.2,357.2 178.8,359.2 187.2,362.0 191.8,361.3 206.2,358.2 216.2,356.6 227.2,355.5 238.2,355.2 238.7,355.8 239.3,359.8 239.5,363.8 239.4,367.8 238.5,376.2 236.7,386.8 224.8,414.4 207.8,451.8Z"/>
<path fill="#8f0000" fill-rule="evenodd" d="M372.8,126.3 370.8,126.5 370.6,126.2 370.9,121.2 371.3,117.2 376.1,104.2 381.9,89.2 427.7,0.2 520.8,0.2 419.2,114.8 418.8,115.0 413.2,115.7 408.2,116.5 399.8,118.5 391.2,121.3 382.8,125.0 372.8,126.3ZM549.8,267.5 479.2,262.7 462.2,260.9 449.8,259.4 435.6,250.2 440.8,242.8 448.2,233.0 455.8,226.5 462.2,220.3 468.5,213.8 475.2,205.9 549.8,187.1 549.8,267.5ZM0.8,325.3 0.2,325.4 0.2,229.5 118.8,237.7 145.8,240.7 148.8,241.1 149.2,241.3 162.8,250.2 156.8,258.8 150.2,267.3 142.2,274.2 136.0,280.2 129.4,287.2 123.2,294.5 0.8,325.3ZM195.2,451.8 120.5,451.8 179.2,385.6 189.8,384.0 198.2,382.0 206.8,379.2 215.8,375.4 225.8,374.1 227.2,374.0 227.8,374.2 227.5,379.2 227.1,383.2 216.6,410.8 195.6,451.8 195.2,451.8Z"/>
<path fill="#800000" fill-rule="evenodd" d="M549.8,252.0 481.2,251.5 474.8,250.2 475.2,249.8 480.2,245.6 480.8,245.5 549.8,243.7 549.8,252.0ZM6.8,257.8 0.2,257.9 0.2,248.0 117.2,248.9 123.7,250.2 118.2,254.7 117.8,254.9 6.8,257.8Z"/>
<circle cx="299.2" cy="250.2" r="30.30" fill="none" stroke="#ffd050" stroke-width="1.3" stroke-dasharray="1.3 2.2" opacity="0.42"/>
<circle cx="299.2" cy="250.2" r="60.60" fill="none" stroke="#ffd050" stroke-width="1.3" stroke-dasharray="1.3 2.2" opacity="0.42"/>
<circle cx="299.2" cy="250.2" r="90.90" fill="none" stroke="#ffd050" stroke-width="1.3" stroke-dasharray="1.3 2.2" opacity="0.42"/>
<circle cx="299.2" cy="250.2" r="121.20" fill="none" stroke="#ffd050" stroke-width="1.3" stroke-dasharray="1.3 2.2" opacity="0.42"/>
<circle cx="299.2" cy="250.2" r="151.50" fill="none" stroke="#ffd050" stroke-width="1.3" stroke-dasharray="1.3 2.2" opacity="0.42"/>
<path d="M299.2 250.2L299.2 68.4" stroke="#ffd050" stroke-width="1.3" stroke-dasharray="1.3 2.2" opacity="0.42"/>
<path d="M299.2 250.2L390.1 92.8" stroke="#ffd050" stroke-width="1.3" stroke-dasharray="1.3 2.2" opacity="0.42"/>
<path d="M299.2 250.2L456.6 159.3" stroke="#ffd050" stroke-width="1.3" stroke-dasharray="1.3 2.2" opacity="0.42"/>
<path d="M299.2 250.2L481.0 250.2" stroke="#ffd050" stroke-width="1.3" stroke-dasharray="1.3 2.2" opacity="0.42"/>
<path d="M299.2 250.2L456.6 341.1" stroke="#ffd050" stroke-width="1.3" stroke-dasharray="1.3 2.2" opacity="0.42"/>
<path d="M299.2 250.2L390.1 407.6" stroke="#ffd050" stroke-width="1.3" stroke-dasharray="1.3 2.2" opacity="0.42"/>
<path d="M299.2 250.2L299.2 432.0" stroke="#ffd050" stroke-width="1.3" stroke-dasharray="1.3 2.2" opacity="0.42"/>
<path d="M299.2 250.2L208.3 407.6" stroke="#ffd050" stroke-width="1.3" stroke-dasharray="1.3 2.2" opacity="0.42"/>
<path d="M299.2 250.2L141.8 341.1" stroke="#ffd050" stroke-width="1.3" stroke-dasharray="1.3 2.2" opacity="0.42"/>
<path d="M299.2 250.2L117.4 250.2" stroke="#ffd050" stroke-width="1.3" stroke-dasharray="1.3 2.2" opacity="0.42"/>
<path d="M299.2 250.2L141.8 159.3" stroke="#ffd050" stroke-width="1.3" stroke-dasharray="1.3 2.2" opacity="0.42"/>
<path d="M299.2 250.2L208.3 92.8" stroke="#ffd050" stroke-width="1.3" stroke-dasharray="1.3 2.2" opacity="0.42"/>
<path fill="none" stroke="#141414" stroke-width="0.90" stroke-linejoin="round" d="M431.7 373.6 L414.0 365.0 L399.8 362.3 L369.8 372.6 L347.6 392.7 L341.0 406.2 L337.2 427.0"/>
<path fill="none" stroke="#141414" stroke-width="0.90" stroke-linejoin="round" d="M166.7 126.8 L184.4 135.4 L198.6 138.1 L228.6 127.8 L250.8 107.7 L257.4 94.2 L261.2 73.4"/>
<path fill="none" stroke="#141414" stroke-width="0.90" stroke-linejoin="round" d="M441.9 360.3 L412.8 349.0 L398.7 349.7 L363.7 362.0 L335.7 386.6 L328.3 397.9 L321.3 429.1"/>
<path fill="none" stroke="#141414" stroke-width="0.90" stroke-linejoin="round" d="M156.5 140.1 L185.6 151.4 L199.7 150.7 L234.7 138.4 L262.7 113.8 L270.1 102.5 L277.1 71.3"/>
<path fill="none" stroke="#141414" stroke-width="0.90" stroke-linejoin="round" d="M452.1 347.1 L421.0 338.3 L389.0 340.0 L371.3 346.3 L357.5 351.1 L346.0 360.9 L332.0 372.7 L314.3 399.7 L305.5 431.2"/>
<path fill="none" stroke="#141414" stroke-width="0.90" stroke-linejoin="round" d="M146.3 153.3 L177.4 162.1 L209.4 160.4 L227.1 154.1 L240.9 149.3 L252.4 139.5 L266.4 127.7 L284.1 100.7 L292.9 69.2"/>
<path fill="none" stroke="#141414" stroke-width="0.90" stroke-linejoin="round" d="M299.2 84.2 L304.2 69.1"/>
<path fill="none" stroke="#141414" stroke-width="0.90" stroke-linejoin="round" d="M458.3 337.0 L445.4 334.6 L427.1 330.2 L387.7 332.3 L381.8 332.8 L352.5 342.6 L329.3 362.4 L325.6 367.9 L303.7 401.1 L299.2 416.2 L294.2 431.3"/>
<path fill="none" stroke="#141414" stroke-width="0.90" stroke-linejoin="round" d="M140.1 163.4 L153.0 165.8 L171.3 170.2 L210.7 168.1 L216.6 167.6 L245.9 157.8 L269.1 138.0 L272.8 132.5 L294.7 99.3 L299.2 84.2"/>
<path fill="none" stroke="#141414" stroke-width="0.90" stroke-linejoin="round" d="M299.2 112.0 L309.0 100.0 L318.6 71.0"/>
<path fill="none" stroke="#141414" stroke-width="0.90" stroke-linejoin="round" d="M464.0 323.4 L433.7 318.0 L420.4 320.2 L396.0 321.4 L372.2 323.2 L346.0 331.2 L325.6 348.6 L311.4 369.8 L299.2 388.4 L289.4 400.4 L279.8 429.4"/>
<path fill="none" stroke="#141414" stroke-width="0.90" stroke-linejoin="round" d="M299.2 250.2 L304.9 279.7 L309.0 286.8 L323.3 292.0 L327.2 278.2 L322.0 269.8 L299.2 250.2"/>
<path fill="none" stroke="#141414" stroke-width="0.90" stroke-linejoin="round" d="M134.4 177.0 L164.7 182.4 L178.0 180.2 L202.4 179.0 L226.2 177.2 L252.4 169.2 L272.8 151.8 L287.0 130.6 L299.2 112.0"/>
<path fill="none" stroke="#141414" stroke-width="0.90" stroke-linejoin="round" d="M299.2 250.2 L293.5 220.7 L289.4 213.6 L275.1 208.4 L271.2 222.2 L276.4 230.6 L299.2 250.2"/>
<path fill="none" stroke="#141414" stroke-width="0.90" stroke-linejoin="round" d="M299.2 250.2 L300.2 246.3 L305.2 220.7 L299.2 194.9"/>
<path fill="none" stroke="#141414" stroke-width="0.90" stroke-linejoin="round" d="M299.2 136.7 L302.6 129.4 L323.4 101.9 L332.9 72.8"/>
<path fill="none" stroke="#141414" stroke-width="0.90" stroke-linejoin="round" d="M469.6 309.8 L439.2 304.7 L404.4 310.2 L402.8 310.0 L366.0 311.2 L349.9 282.9 L346.4 277.5 L327.6 260.1 L299.2 250.2"/>
<path fill="none" stroke="#141414" stroke-width="0.90" stroke-linejoin="round" d="M299.2 250.2 L298.2 254.1 L293.2 279.7 L299.2 305.5 L303.0 310.3 L314.1 339.1 L299.2 363.7 L295.8 371.0 L275.0 398.5 L265.5 427.6"/>
<path fill="none" stroke="#141414" stroke-width="0.90" stroke-linejoin="round" d="M128.8 190.6 L159.2 195.7 L194.0 190.2 L195.6 190.4 L232.4 189.2 L248.5 217.5 L252.0 222.9 L270.8 240.3 L299.2 250.2"/>
<path fill="none" stroke="#141414" stroke-width="0.90" stroke-linejoin="round" d="M299.2 194.9 L295.4 190.1 L284.3 161.3 L299.2 136.7"/>
<path fill="none" stroke="#141414" stroke-width="0.90" stroke-linejoin="round" d="M299.2 250.2 L317.3 226.2 L323.7 207.7 L325.9 196.2 L320.4 171.1 L316.6 161.6 L321.3 131.9 L334.2 103.3 L343.6 74.3"/>
<path fill="none" stroke="#141414" stroke-width="0.90" stroke-linejoin="round" d="M473.8 299.6 L443.4 294.7 L412.9 289.7 L384.2 280.5 L374.6 270.4 L359.1 255.6 L341.6 250.2 L329.2 247.7 L299.2 250.2"/>
<path fill="none" stroke="#141414" stroke-width="0.90" stroke-linejoin="round" d="M299.2 250.2 L281.1 274.2 L274.7 292.7 L272.5 304.2 L278.0 329.3 L281.8 338.8 L277.1 368.5 L264.2 397.1 L254.8 426.1"/>
<path fill="none" stroke="#141414" stroke-width="0.90" stroke-linejoin="round" d="M124.6 200.8 L155.0 205.7 L185.5 210.7 L214.2 219.9 L223.8 230.0 L239.3 244.8 L256.8 250.2 L269.2 252.7 L299.2 250.2"/>
</g>
<path d="M174.6 133.0h4.4M176.8 130.8v4.4" stroke="#111" stroke-width="1"/>
<text class="s" x="177.3" y="129.7" font-size="8.5" fill="#1a1a1a" stroke="#1a1a1a" stroke-width="0.25">1.15</text>
<path d="M215.3 145.0h4.4M217.5 142.8v4.4" stroke="#111" stroke-width="1"/>
<text class="s" x="218.0" y="141.7" font-size="8.5" fill="#1a1a1a" stroke="#1a1a1a" stroke-width="0.25">1.19</text>
<path d="M231.3 150.5h4.4M233.5 148.3v4.4" stroke="#111" stroke-width="1"/>
<text class="s" x="234.0" y="147.2" font-size="8.5" fill="#1a1a1a" stroke="#1a1a1a" stroke-width="0.25">1.23</text>
<path d="M256.8 148.5h4.4M259.0 146.3v4.4" stroke="#111" stroke-width="1"/>
<text class="s" x="259.5" y="145.2" font-size="8.5" fill="#1a1a1a" stroke="#1a1a1a" stroke-width="0.25">1.26</text>
<path d="M236.8 173.5h4.4M239.0 171.3v4.4" stroke="#111" stroke-width="1"/>
<text class="s" x="239.5" y="170.2" font-size="8.5" fill="#1a1a1a" stroke="#1a1a1a" stroke-width="0.25">1.3</text>
<path d="M211.3 191.5h4.4M213.5 189.3v4.4" stroke="#111" stroke-width="1"/>
<text class="s" x="214.0" y="188.2" font-size="8.5" fill="#1a1a1a" stroke="#1a1a1a" stroke-width="0.25">1.34</text>
<path d="M137.8 203.5h4.4M140.0 201.3v4.4" stroke="#111" stroke-width="1"/>
<text class="s" x="140.5" y="200.2" font-size="8.5" fill="#1a1a1a" stroke="#1a1a1a" stroke-width="0.25">1.37</text>
<path d="M300.2 79.4h4.4M302.4 77.2v4.4" stroke="#111" stroke-width="1"/>
<text class="s" x="302.9" y="76.1" font-size="8.5" fill="#1a1a1a" stroke="#1a1a1a" stroke-width="0.25">1.26</text>
<path d="M312.0 85.8h4.4M314.2 83.6v4.4" stroke="#111" stroke-width="1"/>
<text class="s" x="314.7" y="82.5" font-size="8.5" fill="#1a1a1a" stroke="#1a1a1a" stroke-width="0.25">1.3</text>
<path d="M309.7 116.1h4.4M311.9 113.9v4.4" stroke="#111" stroke-width="1"/>
<text class="s" x="312.4" y="112.8" font-size="8.5" fill="#1a1a1a" stroke="#1a1a1a" stroke-width="0.25">1.34</text>
<path d="M269.5 214.5h4.4M271.7 212.3v4.4" stroke="#111" stroke-width="1"/>
<text class="s" x="272.2" y="211.2" font-size="8.5" fill="#1a1a1a" stroke="#1a1a1a" stroke-width="0.25">1.3</text>
<path d="M302.2 228.4h4.4M304.4 226.2v4.4" stroke="#111" stroke-width="1"/>
<text class="s" x="304.9" y="225.1" font-size="8.5" fill="#1a1a1a" stroke="#1a1a1a" stroke-width="0.25">1.34</text>
<path d="M285.5 175.9h4.4M287.7 173.7v4.4" stroke="#111" stroke-width="1"/>
<text class="s" x="288.2" y="172.6" font-size="8.5" fill="#1a1a1a" stroke="#1a1a1a" stroke-width="0.25">1.34</text>
<path d="M320.5 184.6h4.4M322.7 182.4v4.4" stroke="#111" stroke-width="1"/>
<text class="s" x="323.2" y="181.3" font-size="8.5" fill="#1a1a1a" stroke="#1a1a1a" stroke-width="0.25">1.37</text>
<path d="M323.3 285.3h4.4M325.5 283.1v4.4" stroke="#111" stroke-width="1"/>
<text class="s" x="326.0" y="282.0" font-size="8.5" fill="#1a1a1a" stroke="#1a1a1a" stroke-width="0.25">1.3</text>
<path d="M456.3 297.5h4.4M458.5 295.3v4.4" stroke="#111" stroke-width="1"/>
<text class="s" x="459.0" y="294.2" font-size="8.5" fill="#1a1a1a" stroke="#1a1a1a" stroke-width="0.25">1.37</text>
<path d="M381.8 308.5h4.4M384.0 306.3v4.4" stroke="#111" stroke-width="1"/>
<text class="s" x="384.5" y="305.2" font-size="8.5" fill="#1a1a1a" stroke="#1a1a1a" stroke-width="0.25">1.34</text>
<path d="M333.8 341.0h4.4M336.0 338.8v4.4" stroke="#111" stroke-width="1"/>
<text class="s" x="336.5" y="337.7" font-size="8.5" fill="#1a1a1a" stroke="#1a1a1a" stroke-width="0.25">1.3</text>
<path d="M364.3 336.0h4.4M366.5 333.8v4.4" stroke="#111" stroke-width="1"/>
<text class="s" x="367.0" y="332.7" font-size="8.5" fill="#1a1a1a" stroke="#1a1a1a" stroke-width="0.25">1.26</text>
<path d="M348.8 356.0h4.4M351.0 353.8v4.4" stroke="#111" stroke-width="1"/>
<text class="s" x="351.5" y="352.7" font-size="8.5" fill="#1a1a1a" stroke="#1a1a1a" stroke-width="0.25">1.23</text>
<path d="M347.8 373.5h4.4M350.0 371.3v4.4" stroke="#111" stroke-width="1"/>
<text class="s" x="350.5" y="370.2" font-size="8.5" fill="#1a1a1a" stroke="#1a1a1a" stroke-width="0.25">1.19</text>
<path d="M336.8 415.0h4.4M339.0 412.8v4.4" stroke="#111" stroke-width="1"/>
<text class="s" x="339.5" y="411.7" font-size="8.5" fill="#1a1a1a" stroke="#1a1a1a" stroke-width="0.25">1.15</text>
<path d="M305.3 352.5h4.4M307.5 350.3v4.4" stroke="#111" stroke-width="1"/>
<text class="s" x="308.0" y="349.2" font-size="8.5" fill="#1a1a1a" stroke="#1a1a1a" stroke-width="0.25">1.34</text>
<path d="M257.8 414.0h4.4M260.0 411.8v4.4" stroke="#111" stroke-width="1"/>
<text class="s" x="260.5" y="410.7" font-size="8.5" fill="#1a1a1a" stroke="#1a1a1a" stroke-width="0.25">1.37</text>
<text class="s" x="319.7" y="226.8" font-size="9.3" fill="#58c030" stroke="#58c030" stroke-width="0.3" text-anchor="middle">15</text>
<text class="s" x="346.0" y="210.3" font-size="9.3" fill="#58c030" stroke="#58c030" stroke-width="0.3" text-anchor="middle">30</text>
<text class="s" x="368.0" y="189.0" font-size="9.3" fill="#58c030" stroke="#58c030" stroke-width="0.3" text-anchor="middle">45</text>
<text class="s" x="388.9" y="167.7" font-size="9.3" fill="#58c030" stroke="#58c030" stroke-width="0.3" text-anchor="middle">60</text>
<text class="s" x="410.5" y="146.5" font-size="9.3" fill="#58c030" stroke="#58c030" stroke-width="0.3" text-anchor="middle">75</text>
<text class="s" x="432.0" y="124.5" font-size="9.3" fill="#8cf58c" stroke="#8cf58c" stroke-width="0.3" text-anchor="middle">90</text>
<text class="s" x="302.5" y="67.4" font-size="13.3" fill="#111" stroke="#111" stroke-width="0.3" text-anchor="middle">0</text>
<text class="s" x="395.0" y="91.8" font-size="13.3" fill="#111" stroke="#111" stroke-width="0.3" text-anchor="middle">30</text>
<text class="s" x="466.5" y="161.2" font-size="13.3" fill="#111" stroke="#111" stroke-width="0.3" text-anchor="middle">60</text>
<text class="s" x="490.0" y="254.6" font-size="13.3" fill="#111" stroke="#111" stroke-width="0.3" text-anchor="middle">90</text>
<text class="s" x="471.5" y="347.3" font-size="13.3" fill="#111" stroke="#111" stroke-width="0.3" text-anchor="middle">120</text>
<text class="s" x="397.0" y="419.3" font-size="13.3" fill="#111" stroke="#111" stroke-width="0.3" text-anchor="middle">150</text>
<text class="s" x="307.2" y="443.4" font-size="13.3" fill="#111" stroke="#111" stroke-width="0.3" text-anchor="middle">180</text>
<text class="s" x="205.8" y="419.3" font-size="13.3" fill="#111" stroke="#111" stroke-width="0.3" text-anchor="middle">210</text>
<text class="s" x="137.3" y="350.8" font-size="13.3" fill="#111" stroke="#111" stroke-width="0.3" text-anchor="middle">240</text>
<text class="s" x="113.0" y="255.0" font-size="13.3" fill="#111" stroke="#111" stroke-width="0.3" text-anchor="middle">270</text>
<text class="s" x="137.7" y="160.6" font-size="13.3" fill="#111" stroke="#111" stroke-width="0.3" text-anchor="middle">300</text>
<text class="s" x="210.3" y="88.2" font-size="13.3" fill="#111" stroke="#111" stroke-width="0.3" text-anchor="middle">330</text>
<text class="t" x="253.2" y="22.9" word-spacing="1.0">Azimuth of</text>
<text class="t" x="253.2" y="45.6" word-spacing="5.0">Horizontal Well</text>
<text class="t" x="441.6" y="107.4" word-spacing="1.5">Bedding Dip</text>
</svg></body></html>
